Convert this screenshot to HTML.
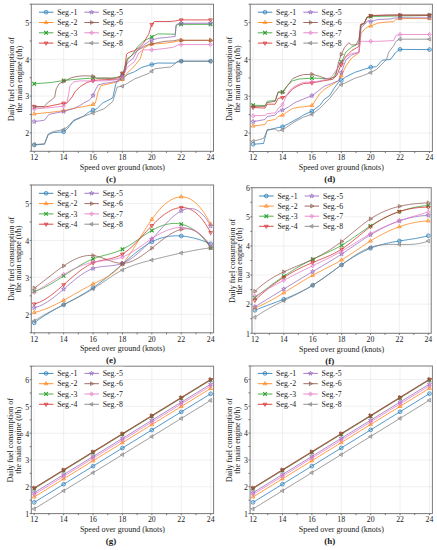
<!DOCTYPE html>
<html><head><meta charset="utf-8"><style>
html,body{margin:0;padding:0;background:#fff;}
svg{display:block;}
text{font-family:"Liberation Serif", serif;font-size:7.8px;fill:#1a1a1a;}
.al{font-size:8px;}
.pl{font-weight:bold;font-size:9px;}
.g{stroke:#e6e6e6;stroke-width:0.6;}
.sp{fill:none;stroke:#7a7a7a;stroke-width:1;}
.tk{stroke:#555;stroke-width:0.8;}
</style></head><body>
<svg width="437" height="550" viewBox="0 0 437 550">
<line x1="34.24" y1="4.2" x2="34.24" y2="151.3" class="g"/>
<line x1="63.63" y1="4.2" x2="63.63" y2="151.3" class="g"/>
<line x1="93.01" y1="4.2" x2="93.01" y2="151.3" class="g"/>
<line x1="122.4" y1="4.2" x2="122.4" y2="151.3" class="g"/>
<line x1="151.79" y1="4.2" x2="151.79" y2="151.3" class="g"/>
<line x1="181.17" y1="4.2" x2="181.17" y2="151.3" class="g"/>
<line x1="210.56" y1="4.2" x2="210.56" y2="151.3" class="g"/>
<line x1="31.3" y1="132.91" x2="213.5" y2="132.91" class="g"/>
<line x1="31.3" y1="96.14" x2="213.5" y2="96.14" class="g"/>
<line x1="31.3" y1="59.36" x2="213.5" y2="59.36" class="g"/>
<line x1="31.3" y1="22.59" x2="213.5" y2="22.59" class="g"/>
<polyline points="34.4,144.9 44.5,144.2 48.2,134.7 53.3,132.5 63.7,131.8 67.8,128.2 73.6,120.9 80,118 83.7,116.1 88.1,112.5 92.5,110.3 96.8,108.8 102.6,103 112.8,97.9 115.7,84.1 118.6,79.7 122.2,79 127.3,74.6 134.5,71.7 141.8,67.4 149.1,65.2 152,64.5 157.8,63 165,63.1 175.2,63.1 178.1,61.2 181,61.2 210.8,61.2" fill="none" stroke="#1f77b4" stroke-width="1" stroke-opacity="0.75" stroke-linejoin="round"/>
<polyline points="34.4,113.9 51.8,112.2 63.7,110.7 75,108.1 83.7,106.6 92.5,104.7 95.4,103 98.3,91.4 101.2,85.5 111.4,83.4 118.6,81.2 122.2,79.7 127.3,73.2 134.5,65.9 140.4,58.6 143.3,48.5 149.1,44.8 152,44.1 165,43.2 173.7,42 181,40.3 210.8,40.3" fill="none" stroke="#ff7f0e" stroke-width="1" stroke-opacity="0.75" stroke-linejoin="round"/>
<polyline points="34.4,83.8 51.8,82.4 63.7,80.5 73.6,79.5 80,79 92.5,78 111.4,78.3 121.5,76.5 123,73 127.3,58.6 131.6,55.7 137.5,47 143.3,41.2 149.1,38.3 152,36.8 157.8,33.9 170,34.1 175.2,34.3 176.2,25.5 178,24.5 181,24.4 210.8,24.4" fill="none" stroke="#2ca02c" stroke-width="1" stroke-opacity="0.75" stroke-linejoin="round"/>
<polyline points="34.4,106.4 44.5,107.1 63.7,103.2 66.4,103.5 68.5,101.3 72.2,96.9 75.1,91.5 80.4,86.5 86.6,82.6 92.5,80.9 98.3,80 118.6,79 122.2,73.2 124.4,71.7 126.5,54.3 128.7,52.5 134.5,50.6 138.9,47.7 143.3,43.4 149.1,33.2 151.3,25.2 154.2,21.5 170,21.5 175.2,20.9 181,19.9 210.8,19.9" fill="none" stroke="#d62728" stroke-width="1" stroke-opacity="0.75" stroke-linejoin="round"/>
<polyline points="34.4,121.6 44.5,120.2 48.9,114.4 56.2,112.9 63.7,111.5 73.6,108.5 80,105.5 83.7,103 89.5,100.1 92.7,96.2 95.4,89.9 98.3,84.8 104,83.4 118.6,81.2 122.2,76.1 127.3,63 133.1,58.6 137.5,49.9 143.3,45.5 149.1,41.2 152,40 157.8,38.3 165,37.6 175.2,36.5 176,25.4 177.1,24 181,23.4 210.8,23.3" fill="none" stroke="#9467bd" stroke-width="1" stroke-opacity="0.75" stroke-linejoin="round"/>
<polyline points="34.4,107.1 44.5,106.4 47.5,102.7 51.8,99.8 54.7,96.9 56.2,88.9 59.1,83.8 63.7,81.3 70.7,78 75,76.8 80,76.1 83.7,75.8 92.5,76.1 96.8,78.3 104,78 115.7,78.3 121.5,75.4 125,72 127.3,60.1 131,56 137.5,50.5 144.7,46.3 149.1,44.1 152,43.8 157.8,42.6 165,41.3 173.7,40.8 178.1,39.8 181,40.3 210.8,40.3" fill="none" stroke="#8c564b" stroke-width="1" stroke-opacity="0.75" stroke-linejoin="round"/>
<polyline points="34.4,109 51.8,107.5 63.7,106.1 67.1,102 68.5,94.7 70,86 73.6,81.9 80,80.9 92.5,80.9 104,80.9 118.6,79.7 122.2,77.5 127.3,67.4 134.5,61.5 138.9,52.8 143.3,49.9 152,49.9 165,48.5 173.7,47.1 178.1,44.9 181,44.6 210.8,44.6" fill="none" stroke="#e377c2" stroke-width="1" stroke-opacity="0.75" stroke-linejoin="round"/>
<polyline points="34.4,144.5 44.5,143.8 48.2,134 53.3,131.5 63.7,129.6 67.8,126.5 73.6,120.2 80,117.5 92.5,113.2 104,108.8 112.8,101.5 117.2,87 122.2,86.3 127.3,83.4 134.5,79 141.8,76.1 149.1,73.2 152,71 154.9,68.8 165,67.5 170.8,67 176.6,62.4 181,61.2 210.8,61.2" fill="none" stroke="#7f7f7f" stroke-width="1" stroke-opacity="0.75" stroke-linejoin="round"/>
<circle cx="34.24" cy="144.9" r="1.9" fill="#1f77b4" fill-opacity="0.22" stroke="#1f77b4" stroke-width="0.65"/>
<circle cx="63.63" cy="131.8" r="1.9" fill="#1f77b4" fill-opacity="0.22" stroke="#1f77b4" stroke-width="0.65"/>
<circle cx="93.01" cy="110.12" r="1.9" fill="#1f77b4" fill-opacity="0.22" stroke="#1f77b4" stroke-width="0.65"/>
<circle cx="122.4" cy="78.83" r="1.9" fill="#1f77b4" fill-opacity="0.22" stroke="#1f77b4" stroke-width="0.65"/>
<circle cx="151.79" cy="64.55" r="1.9" fill="#1f77b4" fill-opacity="0.22" stroke="#1f77b4" stroke-width="0.65"/>
<circle cx="181.17" cy="61.2" r="1.9" fill="#1f77b4" fill-opacity="0.22" stroke="#1f77b4" stroke-width="0.65"/>
<circle cx="210.56" cy="61.2" r="1.9" fill="#1f77b4" fill-opacity="0.22" stroke="#1f77b4" stroke-width="0.65"/>
<polygon points="34.24,111.72 36.13,114.99 32.35,114.99" fill="#ff7f0e" fill-opacity="0.22" stroke="#ff7f0e" stroke-width="0.65"/>
<polygon points="63.63,108.52 65.52,111.8 61.73,111.8" fill="#ff7f0e" fill-opacity="0.22" stroke="#ff7f0e" stroke-width="0.65"/>
<polygon points="93.01,102.21 94.91,105.49 91.12,105.49" fill="#ff7f0e" fill-opacity="0.22" stroke="#ff7f0e" stroke-width="0.65"/>
<polygon points="122.4,77.26 124.29,80.54 120.51,80.54" fill="#ff7f0e" fill-opacity="0.22" stroke="#ff7f0e" stroke-width="0.65"/>
<polygon points="151.79,41.97 153.68,45.24 149.89,45.24" fill="#ff7f0e" fill-opacity="0.22" stroke="#ff7f0e" stroke-width="0.65"/>
<polygon points="181.17,38.11 183.07,41.39 179.28,41.39" fill="#ff7f0e" fill-opacity="0.22" stroke="#ff7f0e" stroke-width="0.65"/>
<polygon points="210.56,38.11 212.45,41.39 208.67,41.39" fill="#ff7f0e" fill-opacity="0.22" stroke="#ff7f0e" stroke-width="0.65"/>
<path d="M32.43,81.99L36.04,85.61M32.43,85.61L36.04,81.99" stroke="#2ca02c" stroke-width="1.1" fill="none"/>
<path d="M61.82,78.71L65.43,82.32M61.82,82.32L65.43,78.71" stroke="#2ca02c" stroke-width="1.1" fill="none"/>
<path d="M91.21,76.2L94.82,79.81M91.21,79.81L94.82,76.2" stroke="#2ca02c" stroke-width="1.1" fill="none"/>
<path d="M120.59,72.6L124.2,76.21M120.59,76.21L124.2,72.6" stroke="#2ca02c" stroke-width="1.1" fill="none"/>
<path d="M149.98,35.11L153.59,38.72M149.98,38.72L153.59,35.11" stroke="#2ca02c" stroke-width="1.1" fill="none"/>
<path d="M179.37,22.59L182.98,26.2M179.37,26.2L182.98,22.59" stroke="#2ca02c" stroke-width="1.1" fill="none"/>
<path d="M208.76,22.59L212.37,26.2M208.76,26.2L212.37,22.59" stroke="#2ca02c" stroke-width="1.1" fill="none"/>
<polygon points="34.24,108.59 32.35,105.31 36.13,105.31" fill="#d62728" fill-opacity="0.22" stroke="#d62728" stroke-width="0.65"/>
<polygon points="63.63,105.4 61.73,102.12 65.52,102.12" fill="#d62728" fill-opacity="0.22" stroke="#d62728" stroke-width="0.65"/>
<polygon points="93.01,83.01 91.12,79.73 94.91,79.73" fill="#d62728" fill-opacity="0.22" stroke="#d62728" stroke-width="0.65"/>
<polygon points="122.4,75.25 120.51,71.97 124.29,71.97" fill="#d62728" fill-opacity="0.22" stroke="#d62728" stroke-width="0.65"/>
<polygon points="151.79,26.76 149.89,23.49 153.68,23.49" fill="#d62728" fill-opacity="0.22" stroke="#d62728" stroke-width="0.65"/>
<polygon points="181.17,22.08 179.28,18.81 183.07,18.81" fill="#d62728" fill-opacity="0.22" stroke="#d62728" stroke-width="0.65"/>
<polygon points="210.56,22.08 208.67,18.81 212.45,18.81" fill="#d62728" fill-opacity="0.22" stroke="#d62728" stroke-width="0.65"/>
<polygon points="34.24,119.32 34.85,120.75 36.41,120.9 35.23,121.92 35.58,123.44 34.24,122.64 32.9,123.44 33.24,121.92 32.07,120.9 33.62,120.75" fill="#9467bd" fill-opacity="0.22" stroke="#9467bd" stroke-width="0.65"/>
<polygon points="63.63,109.23 64.24,110.67 65.79,110.81 64.62,111.84 64.97,113.36 63.63,112.56 62.29,113.36 62.63,111.84 61.46,110.81 63.01,110.67" fill="#9467bd" fill-opacity="0.22" stroke="#9467bd" stroke-width="0.65"/>
<polygon points="93.01,93.19 93.63,94.62 95.18,94.77 94.01,95.79 94.35,97.31 93.01,96.51 91.67,97.31 92.02,95.79 90.84,94.77 92.4,94.62" fill="#9467bd" fill-opacity="0.22" stroke="#9467bd" stroke-width="0.65"/>
<polygon points="122.4,73.31 123.01,74.74 124.57,74.88 123.39,75.91 123.74,77.43 122.4,76.63 121.06,77.43 121.41,75.91 120.23,74.88 121.79,74.74" fill="#9467bd" fill-opacity="0.22" stroke="#9467bd" stroke-width="0.65"/>
<polygon points="151.79,37.81 152.4,39.24 153.96,39.38 152.78,40.41 153.13,41.93 151.79,41.13 150.45,41.93 150.79,40.41 149.62,39.38 151.17,39.24" fill="#9467bd" fill-opacity="0.22" stroke="#9467bd" stroke-width="0.65"/>
<polygon points="181.17,21.12 181.79,22.55 183.34,22.69 182.17,23.72 182.51,25.24 181.17,24.44 179.83,25.24 180.18,23.72 179.01,22.69 180.56,22.55" fill="#9467bd" fill-opacity="0.22" stroke="#9467bd" stroke-width="0.65"/>
<polygon points="210.56,21.02 211.18,22.46 212.73,22.6 211.56,23.62 211.9,25.15 210.56,24.35 209.22,25.15 209.57,23.62 208.39,22.6 209.95,22.46" fill="#9467bd" fill-opacity="0.22" stroke="#9467bd" stroke-width="0.65"/>
<polygon points="36.42,107.1 33.15,108.99 33.15,105.21" fill="#8c564b" fill-opacity="0.22" stroke="#8c564b" stroke-width="0.65"/>
<polygon points="65.81,81.34 62.53,83.23 62.53,79.45" fill="#8c564b" fill-opacity="0.22" stroke="#8c564b" stroke-width="0.65"/>
<polygon points="95.2,76.36 91.92,78.25 91.92,74.47" fill="#8c564b" fill-opacity="0.22" stroke="#8c564b" stroke-width="0.65"/>
<polygon points="124.58,74.53 121.31,76.42 121.31,72.63" fill="#8c564b" fill-opacity="0.22" stroke="#8c564b" stroke-width="0.65"/>
<polygon points="153.97,43.82 150.69,45.71 150.69,41.93" fill="#8c564b" fill-opacity="0.22" stroke="#8c564b" stroke-width="0.65"/>
<polygon points="183.36,40.3 180.08,42.19 180.08,38.41" fill="#8c564b" fill-opacity="0.22" stroke="#8c564b" stroke-width="0.65"/>
<polygon points="212.75,40.3 209.47,42.19 209.47,38.41" fill="#8c564b" fill-opacity="0.22" stroke="#8c564b" stroke-width="0.65"/>
<polygon points="34.24,106.81 35.99,109 34.24,111.19 32.49,109" fill="#e377c2" fill-opacity="0.22" stroke="#e377c2" stroke-width="0.65"/>
<polygon points="63.63,103.92 65.37,106.11 63.63,108.29 61.88,106.11" fill="#e377c2" fill-opacity="0.22" stroke="#e377c2" stroke-width="0.65"/>
<polygon points="93.01,78.72 94.76,80.9 93.01,83.09 91.26,80.9" fill="#e377c2" fill-opacity="0.22" stroke="#e377c2" stroke-width="0.65"/>
<polygon points="122.4,74.92 124.15,77.1 122.4,79.29 120.65,77.1" fill="#e377c2" fill-opacity="0.22" stroke="#e377c2" stroke-width="0.65"/>
<polygon points="151.79,47.71 153.54,49.9 151.79,52.09 150.04,49.9" fill="#e377c2" fill-opacity="0.22" stroke="#e377c2" stroke-width="0.65"/>
<polygon points="181.17,42.41 182.92,44.6 181.17,46.79 179.43,44.6" fill="#e377c2" fill-opacity="0.22" stroke="#e377c2" stroke-width="0.65"/>
<polygon points="210.56,42.41 212.31,44.6 210.56,46.79 208.81,44.6" fill="#e377c2" fill-opacity="0.22" stroke="#e377c2" stroke-width="0.65"/>
<polygon points="32.05,144.5 35.33,142.61 35.33,146.39" fill="#7f7f7f" fill-opacity="0.22" stroke="#7f7f7f" stroke-width="0.65"/>
<polygon points="61.44,129.61 64.72,127.72 64.72,131.51" fill="#7f7f7f" fill-opacity="0.22" stroke="#7f7f7f" stroke-width="0.65"/>
<polygon points="90.83,113 94.11,111.11 94.11,114.9" fill="#7f7f7f" fill-opacity="0.22" stroke="#7f7f7f" stroke-width="0.65"/>
<polygon points="120.21,86.19 123.49,84.29 123.49,88.08" fill="#7f7f7f" fill-opacity="0.22" stroke="#7f7f7f" stroke-width="0.65"/>
<polygon points="149.6,71.16 152.88,69.27 152.88,73.05" fill="#7f7f7f" fill-opacity="0.22" stroke="#7f7f7f" stroke-width="0.65"/>
<polygon points="178.99,61.2 182.27,59.31 182.27,63.09" fill="#7f7f7f" fill-opacity="0.22" stroke="#7f7f7f" stroke-width="0.65"/>
<polygon points="208.38,61.2 211.65,59.31 211.65,63.09" fill="#7f7f7f" fill-opacity="0.22" stroke="#7f7f7f" stroke-width="0.65"/>
<rect x="31.3" y="4.2" width="182.2" height="147.1" class="sp"/>
<line x1="34.24" y1="151.3" x2="34.24" y2="152.9" class="tk"/>
<line x1="48.93" y1="151.3" x2="48.93" y2="152.9" class="tk"/>
<line x1="63.63" y1="151.3" x2="63.63" y2="152.9" class="tk"/>
<line x1="78.32" y1="151.3" x2="78.32" y2="152.9" class="tk"/>
<line x1="93.01" y1="151.3" x2="93.01" y2="152.9" class="tk"/>
<line x1="107.71" y1="151.3" x2="107.71" y2="152.9" class="tk"/>
<line x1="122.4" y1="151.3" x2="122.4" y2="152.9" class="tk"/>
<line x1="137.09" y1="151.3" x2="137.09" y2="152.9" class="tk"/>
<line x1="151.79" y1="151.3" x2="151.79" y2="152.9" class="tk"/>
<line x1="166.48" y1="151.3" x2="166.48" y2="152.9" class="tk"/>
<line x1="181.17" y1="151.3" x2="181.17" y2="152.9" class="tk"/>
<line x1="195.87" y1="151.3" x2="195.87" y2="152.9" class="tk"/>
<line x1="210.56" y1="151.3" x2="210.56" y2="152.9" class="tk"/>
<text x="34.24" y="160.1" text-anchor="middle">12</text>
<text x="63.63" y="160.1" text-anchor="middle">14</text>
<text x="93.01" y="160.1" text-anchor="middle">16</text>
<text x="122.4" y="160.1" text-anchor="middle">18</text>
<text x="151.79" y="160.1" text-anchor="middle">20</text>
<text x="181.17" y="160.1" text-anchor="middle">22</text>
<text x="210.56" y="160.1" text-anchor="middle">24</text>
<line x1="29.7" y1="151.3" x2="31.3" y2="151.3" class="tk"/>
<line x1="29.7" y1="132.91" x2="31.3" y2="132.91" class="tk"/>
<line x1="29.7" y1="114.53" x2="31.3" y2="114.53" class="tk"/>
<line x1="29.7" y1="96.14" x2="31.3" y2="96.14" class="tk"/>
<line x1="29.7" y1="77.75" x2="31.3" y2="77.75" class="tk"/>
<line x1="29.7" y1="59.36" x2="31.3" y2="59.36" class="tk"/>
<line x1="29.7" y1="40.97" x2="31.3" y2="40.97" class="tk"/>
<line x1="29.7" y1="22.59" x2="31.3" y2="22.59" class="tk"/>
<line x1="29.7" y1="4.2" x2="31.3" y2="4.2" class="tk"/>
<text x="29.1" y="136.21" text-anchor="end">2</text>
<text x="29.1" y="99.44" text-anchor="end">3</text>
<text x="29.1" y="62.66" text-anchor="end">4</text>
<text x="29.1" y="25.89" text-anchor="end">5</text>
<text x="122.4" y="169.9" text-anchor="middle" class="al">Speed over ground (knots)</text>
<text transform="translate(13.7,79.15) rotate(-90)" text-anchor="middle" class="al">Daily fuel consumption of</text>
<text transform="translate(21.6,79.15) rotate(-90)" text-anchor="middle" class="al">the main engine (t/h)</text>
<text x="111" y="181.6" text-anchor="middle" class="pl">(c)</text>
<rect x="33.5" y="5.5" width="91" height="42" fill="#fff" fill-opacity="0.85"/>
<line x1="38.9" y1="12.2" x2="53.4" y2="12.2" stroke="#1f77b4" stroke-width="1" stroke-opacity="0.85"/>
<circle cx="46.1" cy="12.2" r="1.9" fill="#1f77b4" fill-opacity="0.22" stroke="#1f77b4" stroke-width="0.65"/>
<text x="57.2" y="14.9">Seg.-1</text>
<line x1="38.9" y1="22.5" x2="53.4" y2="22.5" stroke="#ff7f0e" stroke-width="1" stroke-opacity="0.85"/>
<polygon points="46.1,20.32 47.99,23.59 44.21,23.59" fill="#ff7f0e" fill-opacity="0.22" stroke="#ff7f0e" stroke-width="0.65"/>
<text x="57.2" y="25.2">Seg.-2</text>
<line x1="38.9" y1="32.8" x2="53.4" y2="32.8" stroke="#2ca02c" stroke-width="1" stroke-opacity="0.85"/>
<path d="M44.3,30.99L47.91,34.6M44.3,34.6L47.91,30.99" stroke="#2ca02c" stroke-width="1.1" fill="none"/>
<text x="57.2" y="35.5">Seg.-3</text>
<line x1="38.9" y1="43.1" x2="53.4" y2="43.1" stroke="#d62728" stroke-width="1" stroke-opacity="0.85"/>
<polygon points="46.1,45.29 44.21,42.01 47.99,42.01" fill="#d62728" fill-opacity="0.22" stroke="#d62728" stroke-width="0.65"/>
<text x="57.2" y="45.8">Seg.-4</text>
<line x1="84.4" y1="12.2" x2="98.9" y2="12.2" stroke="#9467bd" stroke-width="1" stroke-opacity="0.85"/>
<polygon points="91.6,9.92 92.21,11.35 93.77,11.5 92.59,12.52 92.94,14.04 91.6,13.24 90.26,14.04 90.61,12.52 89.43,11.5 90.99,11.35" fill="#9467bd" fill-opacity="0.22" stroke="#9467bd" stroke-width="0.65"/>
<text x="102.7" y="14.9">Seg.-5</text>
<line x1="84.4" y1="22.5" x2="98.9" y2="22.5" stroke="#8c564b" stroke-width="1" stroke-opacity="0.85"/>
<polygon points="93.79,22.5 90.51,24.39 90.51,20.61" fill="#8c564b" fill-opacity="0.22" stroke="#8c564b" stroke-width="0.65"/>
<text x="102.7" y="25.2">Seg.-6</text>
<line x1="84.4" y1="32.8" x2="98.9" y2="32.8" stroke="#e377c2" stroke-width="1" stroke-opacity="0.85"/>
<polygon points="91.6,30.61 93.35,32.8 91.6,34.98 89.85,32.8" fill="#e377c2" fill-opacity="0.22" stroke="#e377c2" stroke-width="0.65"/>
<text x="102.7" y="35.5">Seg.-7</text>
<line x1="84.4" y1="43.1" x2="98.9" y2="43.1" stroke="#7f7f7f" stroke-width="1" stroke-opacity="0.85"/>
<polygon points="89.42,43.1 92.69,41.21 92.69,44.99" fill="#7f7f7f" fill-opacity="0.22" stroke="#7f7f7f" stroke-width="0.65"/>
<text x="102.7" y="45.8">Seg.-8</text>
<line x1="253.14" y1="4.2" x2="253.14" y2="151.5" class="g"/>
<line x1="282.53" y1="4.2" x2="282.53" y2="151.5" class="g"/>
<line x1="311.91" y1="4.2" x2="311.91" y2="151.5" class="g"/>
<line x1="341.3" y1="4.2" x2="341.3" y2="151.5" class="g"/>
<line x1="370.69" y1="4.2" x2="370.69" y2="151.5" class="g"/>
<line x1="400.07" y1="4.2" x2="400.07" y2="151.5" class="g"/>
<line x1="429.46" y1="4.2" x2="429.46" y2="151.5" class="g"/>
<line x1="250.2" y1="133.09" x2="432.4" y2="133.09" class="g"/>
<line x1="250.2" y1="96.26" x2="432.4" y2="96.26" class="g"/>
<line x1="250.2" y1="59.44" x2="432.4" y2="59.44" class="g"/>
<line x1="250.2" y1="22.61" x2="432.4" y2="22.61" class="g"/>
<polyline points="253.4,144.2 263.5,143.5 265.7,135.5 267.2,130.4 275.2,128.2 282.7,126.7 288.3,123.8 295,120 299,118 303.7,114.9 312.2,111 319.7,105.5 324.1,99.6 329.9,95.3 334.3,88 338.6,82.2 340,81.3 345.8,76.9 354.5,72.5 363.3,69.6 370.8,67.2 376.4,66.7 382.2,60.2 390,59.5 390.8,59.1 395.2,53 399.5,49.4 429.8,49.6" fill="none" stroke="#1f77b4" stroke-width="1" stroke-opacity="0.75" stroke-linejoin="round"/>
<polyline points="253.4,126 265,124.5 267.2,120.9 275.2,119.5 278.1,116.5 282.7,115.1 286.8,112.2 292.6,108.5 299,107.1 303.7,106.9 312.2,105.5 316.8,98.2 319.7,93.8 324.1,89.5 331.4,85.1 338.6,80.7 341.5,75.6 343,72 346,66 351.6,58 358.9,52.9 361.1,33.3 365.5,28.2 369.1,26.3 370.8,26 377.8,23.1 385,22.2 393.7,21.7 395.9,19.5 399.5,18.6 429.8,18.6" fill="none" stroke="#ff7f0e" stroke-width="1" stroke-opacity="0.75" stroke-linejoin="round"/>
<polyline points="253.4,105.2 265,105.6 267.2,101.3 275.2,100.5 278.1,92.5 282.7,91.8 286.8,86 292.6,80.9 299,79 312.2,78.1 324.1,78.5 329.9,79 334.3,76.4 338.6,66.2 343,58.9 345.8,52.2 351.6,47.1 358.9,43.5 361.1,25.3 364.7,23.1 366.9,17 370.8,16.5 390,16.1 429.8,15.5" fill="none" stroke="#2ca02c" stroke-width="1" stroke-opacity="0.75" stroke-linejoin="round"/>
<polyline points="253.4,107.5 265,108.1 267.2,104.2 275.2,104.2 278.1,98.4 282.7,97.6 286.8,95.5 292.6,88.9 299,85.3 303.7,83.6 312.2,82.9 324.1,80.7 332.8,79.3 337.2,74.9 340.1,66.9 345.8,56.5 351.6,50.7 358.9,46.4 360.4,24.5 364,23.1 366.9,18 370.8,15.5 390,15.1 429.8,15.2" fill="none" stroke="#d62728" stroke-width="1" stroke-opacity="0.75" stroke-linejoin="round"/>
<polyline points="253.4,121.6 265,119.5 267.2,116.5 275.2,115.1 278.1,111.5 282.7,110 288.3,107.1 295,102.5 303.7,98.9 312.2,95.6 318.3,90.9 324.1,86.3 331.4,83.6 338.6,80.7 341.5,72 345.8,60 351.6,55.1 358.9,52.2 361.1,27.5 364.7,24.5 367.6,20.9 370.8,21.6 377.8,19.5 390,19 393.7,18.1 399.5,17.8 429.8,17.8" fill="none" stroke="#9467bd" stroke-width="1" stroke-opacity="0.75" stroke-linejoin="round"/>
<polyline points="253.4,106.4 265,106.4 267.2,102.7 275.2,101.3 278.1,91.8 282.7,92.5 286.8,86.7 292.6,78.7 299,75.8 303.7,74.6 312.2,74.3 319.7,76.4 328.5,79.3 335.7,76.4 338.6,61.8 341.5,53.8 344.4,47.8 348.7,42.7 351.6,44.9 356,44.9 358.9,39.1 361.1,24.5 364,23.8 366.9,17.3 370.8,16 374.9,15.5 390,15 429.8,15" fill="none" stroke="#8c564b" stroke-width="1" stroke-opacity="0.75" stroke-linejoin="round"/>
<polyline points="253.4,115.8 265,115.4 267.2,113.6 275.2,112.9 278.1,108.5 282.7,104.6 286.1,96.2 289.7,90.4 295,86 303.7,82.2 312.2,82.2 321.2,80.7 329.9,77.8 332.8,74.9 337.2,69 340,64 345.8,57 351.6,53.6 358.9,52.2 360.4,41.3 370.8,41.3 377.8,41.3 390,40.8 393.7,40.6 395.9,35.5 399.5,34.5 429.8,34.5" fill="none" stroke="#e377c2" stroke-width="1" stroke-opacity="0.75" stroke-linejoin="round"/>
<polyline points="253.4,141.3 263.5,138.4 265.7,134 267.2,129.6 275.2,128.9 278.1,131.1 282.7,129.9 288.3,126 295,121.5 303.7,117.1 312.2,114.2 319.7,108.4 324.1,104 329.9,98.2 334.3,92.4 340.1,85.1 345.8,82.7 354.5,78.4 363.3,75.5 370.8,72.5 376.4,69.6 380.7,65.3 386.5,59.5 388.7,52.2 393.7,45.7 395.9,41.4 399.5,39.2 429.8,39.2" fill="none" stroke="#7f7f7f" stroke-width="1" stroke-opacity="0.75" stroke-linejoin="round"/>
<circle cx="253.14" cy="144.2" r="1.9" fill="#1f77b4" fill-opacity="0.22" stroke="#1f77b4" stroke-width="0.65"/>
<circle cx="282.53" cy="126.73" r="1.9" fill="#1f77b4" fill-opacity="0.22" stroke="#1f77b4" stroke-width="0.65"/>
<circle cx="311.91" cy="111.13" r="1.9" fill="#1f77b4" fill-opacity="0.22" stroke="#1f77b4" stroke-width="0.65"/>
<circle cx="341.3" cy="80.31" r="1.9" fill="#1f77b4" fill-opacity="0.22" stroke="#1f77b4" stroke-width="0.65"/>
<circle cx="370.69" cy="67.24" r="1.9" fill="#1f77b4" fill-opacity="0.22" stroke="#1f77b4" stroke-width="0.65"/>
<circle cx="400.07" cy="49.4" r="1.9" fill="#1f77b4" fill-opacity="0.22" stroke="#1f77b4" stroke-width="0.65"/>
<circle cx="429.46" cy="49.6" r="1.9" fill="#1f77b4" fill-opacity="0.22" stroke="#1f77b4" stroke-width="0.65"/>
<polygon points="253.14,123.81 255.03,127.09 251.25,127.09" fill="#ff7f0e" fill-opacity="0.22" stroke="#ff7f0e" stroke-width="0.65"/>
<polygon points="282.53,112.97 284.42,116.25 280.63,116.25" fill="#ff7f0e" fill-opacity="0.22" stroke="#ff7f0e" stroke-width="0.65"/>
<polygon points="311.91,103.36 313.81,106.64 310.02,106.64" fill="#ff7f0e" fill-opacity="0.22" stroke="#ff7f0e" stroke-width="0.65"/>
<polygon points="341.3,73.77 343.19,77.04 339.41,77.04" fill="#ff7f0e" fill-opacity="0.22" stroke="#ff7f0e" stroke-width="0.65"/>
<polygon points="370.69,23.83 372.58,27.11 368.79,27.11" fill="#ff7f0e" fill-opacity="0.22" stroke="#ff7f0e" stroke-width="0.65"/>
<polygon points="400.07,16.42 401.97,19.69 398.18,19.69" fill="#ff7f0e" fill-opacity="0.22" stroke="#ff7f0e" stroke-width="0.65"/>
<polygon points="429.46,16.42 431.35,19.69 427.57,19.69" fill="#ff7f0e" fill-opacity="0.22" stroke="#ff7f0e" stroke-width="0.65"/>
<path d="M251.33,103.39L254.94,107.01M251.33,107.01L254.94,103.39" stroke="#2ca02c" stroke-width="1.1" fill="none"/>
<path d="M280.72,90.02L284.33,93.63M280.72,93.63L284.33,90.02" stroke="#2ca02c" stroke-width="1.1" fill="none"/>
<path d="M310.11,76.31L313.72,79.92M310.11,79.92L313.72,76.31" stroke="#2ca02c" stroke-width="1.1" fill="none"/>
<path d="M339.49,59.92L343.1,63.53M339.49,63.53L343.1,59.92" stroke="#2ca02c" stroke-width="1.1" fill="none"/>
<path d="M368.88,14.71L372.49,18.32M368.88,18.32L372.49,14.71" stroke="#2ca02c" stroke-width="1.1" fill="none"/>
<path d="M398.27,14.14L401.88,17.75M398.27,17.75L401.88,14.14" stroke="#2ca02c" stroke-width="1.1" fill="none"/>
<path d="M427.66,13.7L431.27,17.31M427.66,17.31L431.27,13.7" stroke="#2ca02c" stroke-width="1.1" fill="none"/>
<polygon points="253.14,109.69 251.25,106.41 255.03,106.41" fill="#d62728" fill-opacity="0.22" stroke="#d62728" stroke-width="0.65"/>
<polygon points="282.53,99.82 280.63,96.54 284.42,96.54" fill="#d62728" fill-opacity="0.22" stroke="#d62728" stroke-width="0.65"/>
<polygon points="311.91,85.11 310.02,81.83 313.81,81.83" fill="#d62728" fill-opacity="0.22" stroke="#d62728" stroke-width="0.65"/>
<polygon points="341.3,66.9 339.41,63.62 343.19,63.62" fill="#d62728" fill-opacity="0.22" stroke="#d62728" stroke-width="0.65"/>
<polygon points="370.69,17.76 368.79,14.48 372.58,14.48" fill="#d62728" fill-opacity="0.22" stroke="#d62728" stroke-width="0.65"/>
<polygon points="400.07,17.31 398.18,14.03 401.97,14.03" fill="#d62728" fill-opacity="0.22" stroke="#d62728" stroke-width="0.65"/>
<polygon points="429.46,17.38 427.57,14.11 431.35,14.11" fill="#d62728" fill-opacity="0.22" stroke="#d62728" stroke-width="0.65"/>
<polygon points="253.14,119.32 253.75,120.75 255.31,120.9 254.13,121.92 254.48,123.44 253.14,122.64 251.8,123.44 252.14,121.92 250.97,120.9 252.52,120.75" fill="#9467bd" fill-opacity="0.22" stroke="#9467bd" stroke-width="0.65"/>
<polygon points="282.53,107.78 283.14,109.21 284.69,109.35 283.52,110.38 283.87,111.9 282.53,111.1 281.19,111.9 281.53,110.38 280.36,109.35 281.91,109.21" fill="#9467bd" fill-opacity="0.22" stroke="#9467bd" stroke-width="0.65"/>
<polygon points="311.91,93.43 312.53,94.87 314.08,95.01 312.91,96.03 313.25,97.56 311.91,96.76 310.57,97.56 310.92,96.03 309.74,95.01 311.3,94.87" fill="#9467bd" fill-opacity="0.22" stroke="#9467bd" stroke-width="0.65"/>
<polygon points="341.3,70.32 341.91,71.75 343.47,71.9 342.29,72.92 342.64,74.44 341.3,73.65 339.96,74.44 340.31,72.92 339.13,71.9 340.69,71.75" fill="#9467bd" fill-opacity="0.22" stroke="#9467bd" stroke-width="0.65"/>
<polygon points="370.69,19.3 371.3,20.73 372.86,20.87 371.68,21.9 372.03,23.42 370.69,22.62 369.35,23.42 369.69,21.9 368.52,20.87 370.07,20.73" fill="#9467bd" fill-opacity="0.22" stroke="#9467bd" stroke-width="0.65"/>
<polygon points="400.07,15.52 400.69,16.95 402.24,17.1 401.07,18.12 401.41,19.64 400.07,18.84 398.73,19.64 399.08,18.12 397.91,17.1 399.46,16.95" fill="#9467bd" fill-opacity="0.22" stroke="#9467bd" stroke-width="0.65"/>
<polygon points="429.46,15.52 430.08,16.95 431.63,17.1 430.46,18.12 430.8,19.64 429.46,18.84 428.12,19.64 428.47,18.12 427.29,17.1 428.85,16.95" fill="#9467bd" fill-opacity="0.22" stroke="#9467bd" stroke-width="0.65"/>
<polygon points="255.32,106.4 252.05,108.29 252.05,104.51" fill="#8c564b" fill-opacity="0.22" stroke="#8c564b" stroke-width="0.65"/>
<polygon points="284.71,92.47 281.43,94.37 281.43,90.58" fill="#8c564b" fill-opacity="0.22" stroke="#8c564b" stroke-width="0.65"/>
<polygon points="314.1,74.31 310.82,76.2 310.82,72.42" fill="#8c564b" fill-opacity="0.22" stroke="#8c564b" stroke-width="0.65"/>
<polygon points="343.48,54.35 340.21,56.24 340.21,52.46" fill="#8c564b" fill-opacity="0.22" stroke="#8c564b" stroke-width="0.65"/>
<polygon points="372.87,16.04 369.59,17.93 369.59,14.15" fill="#8c564b" fill-opacity="0.22" stroke="#8c564b" stroke-width="0.65"/>
<polygon points="402.26,15 398.98,16.89 398.98,13.11" fill="#8c564b" fill-opacity="0.22" stroke="#8c564b" stroke-width="0.65"/>
<polygon points="431.65,15 428.37,16.89 428.37,13.11" fill="#8c564b" fill-opacity="0.22" stroke="#8c564b" stroke-width="0.65"/>
<polygon points="253.14,113.61 254.89,115.8 253.14,117.98 251.39,115.8" fill="#e377c2" fill-opacity="0.22" stroke="#e377c2" stroke-width="0.65"/>
<polygon points="282.53,102.56 284.27,104.75 282.53,106.93 280.78,104.75" fill="#e377c2" fill-opacity="0.22" stroke="#e377c2" stroke-width="0.65"/>
<polygon points="311.91,80.02 313.66,82.2 311.91,84.39 310.16,82.2" fill="#e377c2" fill-opacity="0.22" stroke="#e377c2" stroke-width="0.65"/>
<polygon points="341.3,60.25 343.05,62.43 341.3,64.62 339.55,62.43" fill="#e377c2" fill-opacity="0.22" stroke="#e377c2" stroke-width="0.65"/>
<polygon points="370.69,39.11 372.44,41.3 370.69,43.48 368.94,41.3" fill="#e377c2" fill-opacity="0.22" stroke="#e377c2" stroke-width="0.65"/>
<polygon points="400.07,32.31 401.82,34.5 400.07,36.69 398.33,34.5" fill="#e377c2" fill-opacity="0.22" stroke="#e377c2" stroke-width="0.65"/>
<polygon points="429.46,32.31 431.21,34.5 429.46,36.69 427.71,34.5" fill="#e377c2" fill-opacity="0.22" stroke="#e377c2" stroke-width="0.65"/>
<polygon points="250.95,141.3 254.23,139.41 254.23,143.19" fill="#7f7f7f" fill-opacity="0.22" stroke="#7f7f7f" stroke-width="0.65"/>
<polygon points="280.34,129.95 283.62,128.05 283.62,131.84" fill="#7f7f7f" fill-opacity="0.22" stroke="#7f7f7f" stroke-width="0.65"/>
<polygon points="309.73,114.3 313.01,112.41 313.01,116.19" fill="#7f7f7f" fill-opacity="0.22" stroke="#7f7f7f" stroke-width="0.65"/>
<polygon points="339.11,84.59 342.39,82.7 342.39,86.49" fill="#7f7f7f" fill-opacity="0.22" stroke="#7f7f7f" stroke-width="0.65"/>
<polygon points="368.5,72.55 371.78,70.65 371.78,74.44" fill="#7f7f7f" fill-opacity="0.22" stroke="#7f7f7f" stroke-width="0.65"/>
<polygon points="397.89,39.2 401.17,37.31 401.17,41.09" fill="#7f7f7f" fill-opacity="0.22" stroke="#7f7f7f" stroke-width="0.65"/>
<polygon points="427.28,39.2 430.55,37.31 430.55,41.09" fill="#7f7f7f" fill-opacity="0.22" stroke="#7f7f7f" stroke-width="0.65"/>
<rect x="250.2" y="4.2" width="182.2" height="147.3" class="sp"/>
<line x1="253.14" y1="151.5" x2="253.14" y2="153.1" class="tk"/>
<line x1="267.83" y1="151.5" x2="267.83" y2="153.1" class="tk"/>
<line x1="282.53" y1="151.5" x2="282.53" y2="153.1" class="tk"/>
<line x1="297.22" y1="151.5" x2="297.22" y2="153.1" class="tk"/>
<line x1="311.91" y1="151.5" x2="311.91" y2="153.1" class="tk"/>
<line x1="326.61" y1="151.5" x2="326.61" y2="153.1" class="tk"/>
<line x1="341.3" y1="151.5" x2="341.3" y2="153.1" class="tk"/>
<line x1="355.99" y1="151.5" x2="355.99" y2="153.1" class="tk"/>
<line x1="370.69" y1="151.5" x2="370.69" y2="153.1" class="tk"/>
<line x1="385.38" y1="151.5" x2="385.38" y2="153.1" class="tk"/>
<line x1="400.07" y1="151.5" x2="400.07" y2="153.1" class="tk"/>
<line x1="414.77" y1="151.5" x2="414.77" y2="153.1" class="tk"/>
<line x1="429.46" y1="151.5" x2="429.46" y2="153.1" class="tk"/>
<text x="253.14" y="160.3" text-anchor="middle">12</text>
<text x="282.53" y="160.3" text-anchor="middle">14</text>
<text x="311.91" y="160.3" text-anchor="middle">16</text>
<text x="341.3" y="160.3" text-anchor="middle">18</text>
<text x="370.69" y="160.3" text-anchor="middle">20</text>
<text x="400.07" y="160.3" text-anchor="middle">22</text>
<text x="429.46" y="160.3" text-anchor="middle">24</text>
<line x1="248.6" y1="151.5" x2="250.2" y2="151.5" class="tk"/>
<line x1="248.6" y1="133.09" x2="250.2" y2="133.09" class="tk"/>
<line x1="248.6" y1="114.67" x2="250.2" y2="114.67" class="tk"/>
<line x1="248.6" y1="96.26" x2="250.2" y2="96.26" class="tk"/>
<line x1="248.6" y1="77.85" x2="250.2" y2="77.85" class="tk"/>
<line x1="248.6" y1="59.44" x2="250.2" y2="59.44" class="tk"/>
<line x1="248.6" y1="41.02" x2="250.2" y2="41.02" class="tk"/>
<line x1="248.6" y1="22.61" x2="250.2" y2="22.61" class="tk"/>
<line x1="248.6" y1="4.2" x2="250.2" y2="4.2" class="tk"/>
<text x="248" y="136.39" text-anchor="end">2</text>
<text x="248" y="99.56" text-anchor="end">3</text>
<text x="248" y="62.74" text-anchor="end">4</text>
<text x="248" y="25.91" text-anchor="end">5</text>
<text x="341.3" y="170.1" text-anchor="middle" class="al">Speed over ground (knots)</text>
<text transform="translate(232.1,78.85) rotate(-90)" text-anchor="middle" class="al">Daily fuel consumption of</text>
<text transform="translate(239.6,78.85) rotate(-90)" text-anchor="middle" class="al">the main engine (t/h)</text>
<text x="329.8" y="181.8" text-anchor="middle" class="pl">(d)</text>
<rect x="252.4" y="5.5" width="91" height="42" fill="#fff" fill-opacity="0.85"/>
<line x1="257.8" y1="12.2" x2="272.3" y2="12.2" stroke="#1f77b4" stroke-width="1" stroke-opacity="0.85"/>
<circle cx="265" cy="12.2" r="1.9" fill="#1f77b4" fill-opacity="0.22" stroke="#1f77b4" stroke-width="0.65"/>
<text x="276.1" y="14.9">Seg.-1</text>
<line x1="257.8" y1="22.5" x2="272.3" y2="22.5" stroke="#ff7f0e" stroke-width="1" stroke-opacity="0.85"/>
<polygon points="265,20.32 266.89,23.59 263.11,23.59" fill="#ff7f0e" fill-opacity="0.22" stroke="#ff7f0e" stroke-width="0.65"/>
<text x="276.1" y="25.2">Seg.-2</text>
<line x1="257.8" y1="32.8" x2="272.3" y2="32.8" stroke="#2ca02c" stroke-width="1" stroke-opacity="0.85"/>
<path d="M263.19,30.99L266.81,34.6M263.19,34.6L266.81,30.99" stroke="#2ca02c" stroke-width="1.1" fill="none"/>
<text x="276.1" y="35.5">Seg.-3</text>
<line x1="257.8" y1="43.1" x2="272.3" y2="43.1" stroke="#d62728" stroke-width="1" stroke-opacity="0.85"/>
<polygon points="265,45.29 263.11,42.01 266.89,42.01" fill="#d62728" fill-opacity="0.22" stroke="#d62728" stroke-width="0.65"/>
<text x="276.1" y="45.8">Seg.-4</text>
<line x1="303.3" y1="12.2" x2="317.8" y2="12.2" stroke="#9467bd" stroke-width="1" stroke-opacity="0.85"/>
<polygon points="310.5,9.92 311.11,11.35 312.67,11.5 311.49,12.52 311.84,14.04 310.5,13.24 309.16,14.04 309.51,12.52 308.33,11.5 309.89,11.35" fill="#9467bd" fill-opacity="0.22" stroke="#9467bd" stroke-width="0.65"/>
<text x="321.6" y="14.9">Seg.-5</text>
<line x1="303.3" y1="22.5" x2="317.8" y2="22.5" stroke="#8c564b" stroke-width="1" stroke-opacity="0.85"/>
<polygon points="312.69,22.5 309.41,24.39 309.41,20.61" fill="#8c564b" fill-opacity="0.22" stroke="#8c564b" stroke-width="0.65"/>
<text x="321.6" y="25.2">Seg.-6</text>
<line x1="303.3" y1="32.8" x2="317.8" y2="32.8" stroke="#e377c2" stroke-width="1" stroke-opacity="0.85"/>
<polygon points="310.5,30.61 312.25,32.8 310.5,34.98 308.75,32.8" fill="#e377c2" fill-opacity="0.22" stroke="#e377c2" stroke-width="0.65"/>
<text x="321.6" y="35.5">Seg.-7</text>
<line x1="303.3" y1="43.1" x2="317.8" y2="43.1" stroke="#7f7f7f" stroke-width="1" stroke-opacity="0.85"/>
<polygon points="308.31,43.1 311.59,41.21 311.59,44.99" fill="#7f7f7f" fill-opacity="0.22" stroke="#7f7f7f" stroke-width="0.65"/>
<text x="321.6" y="45.8">Seg.-8</text>
<line x1="34.24" y1="185" x2="34.24" y2="332.8" class="g"/>
<line x1="63.64" y1="185" x2="63.64" y2="332.8" class="g"/>
<line x1="93.05" y1="185" x2="93.05" y2="332.8" class="g"/>
<line x1="122.45" y1="185" x2="122.45" y2="332.8" class="g"/>
<line x1="151.85" y1="185" x2="151.85" y2="332.8" class="g"/>
<line x1="181.26" y1="185" x2="181.26" y2="332.8" class="g"/>
<line x1="210.66" y1="185" x2="210.66" y2="332.8" class="g"/>
<line x1="31.3" y1="314.32" x2="213.6" y2="314.32" class="g"/>
<line x1="31.3" y1="277.38" x2="213.6" y2="277.38" class="g"/>
<line x1="31.3" y1="240.43" x2="213.6" y2="240.43" class="g"/>
<line x1="31.3" y1="203.47" x2="213.6" y2="203.47" class="g"/>
<polyline points="34.24,322.82 36.08,321.45 37.92,320.12 39.75,318.83 41.59,317.58 43.43,316.37 45.27,315.19 47.1,314.05 48.94,312.93 50.78,311.84 52.62,310.77 54.46,309.73 56.29,308.7 58.13,307.69 59.97,306.69 61.81,305.7 63.64,304.72 65.48,303.74 67.32,302.76 69.16,301.79 70.99,300.8 72.83,299.82 74.67,298.82 76.51,297.81 78.35,296.78 80.18,295.74 82.02,294.68 83.86,293.59 85.7,292.48 87.53,291.34 89.37,290.17 91.21,288.96 93.05,287.72 94.88,286.44 96.72,285.12 98.56,283.77 100.4,282.38 102.24,280.97 104.07,279.52 105.91,278.05 107.75,276.56 109.59,275.05 111.42,273.52 113.26,271.97 115.1,270.41 116.94,268.84 118.77,267.25 120.61,265.67 122.45,264.07 124.29,262.48 126.13,260.89 127.96,259.3 129.8,257.74 131.64,256.19 133.48,254.66 135.31,253.16 137.15,251.7 138.99,250.28 140.83,248.91 142.66,247.58 144.5,246.31 146.34,245.1 148.18,243.96 150.02,242.89 151.85,241.9 153.69,240.99 155.53,240.16 157.37,239.41 159.2,238.74 161.04,238.14 162.88,237.61 164.72,237.16 166.55,236.77 168.39,236.46 170.23,236.21 172.07,236.02 173.91,235.9 175.74,235.83 177.58,235.83 179.42,235.88 181.26,235.99 183.09,236.15 184.93,236.37 186.77,236.63 188.61,236.94 190.44,237.3 192.28,237.7 194.12,238.14 195.96,238.63 197.8,239.15 199.63,239.71 201.47,240.31 203.31,240.94 205.15,241.6 206.98,242.29 208.82,243.01 210.66,243.75" fill="none" stroke="#1f77b4" stroke-width="1" stroke-opacity="0.75" stroke-linejoin="round"/>
<polyline points="34.24,312.48 36.08,312.05 37.92,311.56 39.75,311.02 41.59,310.43 43.43,309.79 45.27,309.1 47.1,308.37 48.94,307.6 50.78,306.79 52.62,305.94 54.46,305.06 56.29,304.16 58.13,303.22 59.97,302.26 61.81,301.28 63.64,300.28 65.48,299.27 67.32,298.24 69.16,297.2 70.99,296.16 72.83,295.11 74.67,294.06 76.51,293 78.35,291.96 80.18,290.91 82.02,289.88 83.86,288.86 85.7,287.85 87.53,286.86 89.37,285.89 91.21,284.95 93.05,284.03 94.88,283.13 96.72,282.25 98.56,281.37 100.4,280.48 102.24,279.57 104.07,278.61 105.91,277.61 107.75,276.54 109.59,275.39 111.42,274.16 113.26,272.81 115.1,271.35 116.94,269.76 118.77,268.03 120.61,266.14 122.45,264.07 124.29,261.83 126.13,259.43 127.96,256.88 129.8,254.2 131.64,251.42 133.48,248.55 135.31,245.61 137.15,242.63 138.99,239.61 140.83,236.59 142.66,233.58 144.5,230.6 146.34,227.67 148.18,224.81 150.02,222.03 151.85,219.36 153.69,216.82 155.53,214.41 157.37,212.14 159.2,210 161.04,208.01 162.88,206.17 164.72,204.48 166.55,202.94 168.39,201.57 170.23,200.36 172.07,199.32 173.91,198.46 175.74,197.77 177.58,197.27 179.42,196.95 181.26,196.82 183.09,196.89 184.93,197.16 186.77,197.63 188.61,198.31 190.44,199.2 192.28,200.3 194.12,201.63 195.96,203.18 197.8,204.96 199.63,206.97 201.47,209.22 203.31,211.71 205.15,214.44 206.98,217.43 208.82,220.67 210.66,224.17" fill="none" stroke="#ff7f0e" stroke-width="1" stroke-opacity="0.75" stroke-linejoin="round"/>
<polyline points="34.24,291.42 36.08,290.84 37.92,290.19 39.75,289.47 41.59,288.69 43.43,287.84 45.27,286.95 47.1,286 48.94,285 50.78,283.96 52.62,282.88 54.46,281.78 56.29,280.64 58.13,279.48 59.97,278.3 61.81,277.1 63.64,275.9 65.48,274.69 67.32,273.47 69.16,272.26 70.99,271.06 72.83,269.87 74.67,268.7 76.51,267.55 78.35,266.43 80.18,265.33 82.02,264.27 83.86,263.25 85.7,262.27 87.53,261.35 89.37,260.47 91.21,259.66 93.05,258.9 94.88,258.21 96.72,257.58 98.56,256.99 100.4,256.44 102.24,255.92 104.07,255.42 105.91,254.92 107.75,254.43 109.59,253.92 111.42,253.4 113.26,252.84 115.1,252.25 116.94,251.61 118.77,250.91 120.61,250.14 122.45,249.29 124.29,248.36 126.13,247.35 127.96,246.28 129.8,245.14 131.64,243.96 133.48,242.73 135.31,241.48 137.15,240.21 138.99,238.92 140.83,237.64 142.66,236.36 144.5,235.11 146.34,233.88 148.18,232.68 150.02,231.54 151.85,230.45 153.69,229.42 155.53,228.47 157.37,227.59 159.2,226.78 161.04,226.05 162.88,225.41 164.72,224.85 166.55,224.38 168.39,224 170.23,223.71 172.07,223.52 173.91,223.44 175.74,223.46 177.58,223.58 179.42,223.82 181.26,224.17 183.09,224.63 184.93,225.22 186.77,225.93 188.61,226.77 190.44,227.73 192.28,228.83 194.12,230.07 195.96,231.44 197.8,232.95 199.63,234.62 201.47,236.43 203.31,238.39 205.15,240.5 206.98,242.78 208.82,245.21 210.66,247.81" fill="none" stroke="#2ca02c" stroke-width="1" stroke-opacity="0.75" stroke-linejoin="round"/>
<polyline points="34.24,303.98 36.08,303.47 37.92,302.84 39.75,302.08 41.59,301.21 43.43,300.23 45.27,299.16 47.1,297.99 48.94,296.74 50.78,295.42 52.62,294.03 54.46,292.59 56.29,291.09 58.13,289.55 59.97,287.98 61.81,286.38 63.64,284.77 65.48,283.14 67.32,281.51 69.16,279.89 70.99,278.28 72.83,276.69 74.67,275.13 76.51,273.61 78.35,272.14 80.18,270.72 82.02,269.36 83.86,268.07 85.7,266.86 87.53,265.74 89.37,264.71 91.21,263.78 93.05,262.96 94.88,262.26 96.72,261.66 98.56,261.14 100.4,260.68 102.24,260.28 104.07,259.9 105.91,259.55 107.75,259.18 109.59,258.8 111.42,258.38 113.26,257.9 115.1,257.36 116.94,256.72 118.77,255.97 120.61,255.11 122.45,254.1 124.29,252.93 126.13,251.62 127.96,250.18 129.8,248.63 131.64,246.96 133.48,245.21 135.31,243.38 137.15,241.48 138.99,239.54 140.83,237.55 142.66,235.55 144.5,233.53 146.34,231.52 148.18,229.53 150.02,227.56 151.85,225.64 153.69,223.78 155.53,221.99 157.37,220.26 159.2,218.62 161.04,217.06 162.88,215.59 164.72,214.22 166.55,212.96 168.39,211.81 170.23,210.79 172.07,209.89 173.91,209.12 175.74,208.5 177.58,208.02 179.42,207.7 181.26,207.54 183.09,207.55 184.93,207.73 186.77,208.1 188.61,208.66 190.44,209.41 192.28,210.37 194.12,211.54 195.96,212.93 197.8,214.54 199.63,216.38 201.47,218.46 203.31,220.78 205.15,223.36 206.98,226.19 208.82,229.29 210.66,232.67" fill="none" stroke="#d62728" stroke-width="1" stroke-opacity="0.75" stroke-linejoin="round"/>
<polyline points="34.24,307.67 36.08,307.24 37.92,306.67 39.75,305.97 41.59,305.15 43.43,304.23 45.27,303.2 47.1,302.08 48.94,300.87 50.78,299.59 52.62,298.24 54.46,296.84 56.29,295.38 58.13,293.87 59.97,292.34 61.81,290.78 63.64,289.2 65.48,287.61 67.32,286.02 69.16,284.45 70.99,282.88 72.83,281.35 74.67,279.84 76.51,278.38 78.35,276.97 80.18,275.62 82.02,274.33 83.86,273.12 85.7,272 87.53,270.96 89.37,270.03 91.21,269.21 93.05,268.51 94.88,267.93 96.72,267.45 98.56,267.08 100.4,266.78 102.24,266.54 104.07,266.34 105.91,266.18 107.75,266.03 109.59,265.87 111.42,265.7 113.26,265.49 115.1,265.23 116.94,264.9 118.77,264.48 120.61,263.97 122.45,263.33 124.29,262.57 126.13,261.68 127.96,260.67 129.8,259.55 131.64,258.31 133.48,256.98 135.31,255.54 137.15,254.02 138.99,252.41 140.83,250.73 142.66,248.97 144.5,247.15 146.34,245.26 148.18,243.33 150.02,241.34 151.85,239.32 153.69,237.26 155.53,235.17 157.37,233.08 159.2,230.99 161.04,228.92 162.88,226.88 164.72,224.88 166.55,222.93 168.39,221.05 170.23,219.25 172.07,217.55 173.91,215.95 175.74,214.47 177.58,213.12 179.42,211.91 181.26,210.87 183.09,209.99 184.93,209.29 186.77,208.8 188.61,208.51 190.44,208.44 192.28,208.61 194.12,209.03 195.96,209.7 197.8,210.65 199.63,211.88 201.47,213.42 203.31,215.26 205.15,217.43 206.98,219.94 208.82,222.79 210.66,226.01" fill="none" stroke="#9467bd" stroke-width="1" stroke-opacity="0.75" stroke-linejoin="round"/>
<polyline points="34.24,288.09 36.08,286.79 37.92,285.45 39.75,284.09 41.59,282.69 43.43,281.27 45.27,279.84 47.1,278.4 48.94,276.96 50.78,275.51 52.62,274.08 54.46,272.65 56.29,271.25 58.13,269.87 59.97,268.51 61.81,267.2 63.64,265.92 65.48,264.69 67.32,263.51 69.16,262.39 70.99,261.33 72.83,260.34 74.67,259.43 76.51,258.59 78.35,257.84 80.18,257.18 82.02,256.62 83.86,256.16 85.7,255.8 87.53,255.56 89.37,255.44 91.21,255.44 93.05,255.57 94.88,255.84 96.72,256.22 98.56,256.7 100.4,257.26 102.24,257.87 104.07,258.54 105.91,259.22 107.75,259.91 109.59,260.58 111.42,261.22 113.26,261.81 115.1,262.33 116.94,262.76 118.77,263.09 120.61,263.28 122.45,263.33 124.29,263.23 126.13,262.96 127.96,262.56 129.8,262.01 131.64,261.34 133.48,260.55 135.31,259.65 137.15,258.65 138.99,257.57 140.83,256.4 142.66,255.15 144.5,253.85 146.34,252.49 148.18,251.09 150.02,249.65 151.85,248.18 153.69,246.7 155.53,245.21 157.37,243.73 159.2,242.26 161.04,240.81 162.88,239.39 164.72,238.02 166.55,236.7 168.39,235.45 170.23,234.27 172.07,233.18 173.91,232.18 175.74,231.29 177.58,230.51 179.42,229.86 181.26,229.34 183.09,228.97 184.93,228.75 186.77,228.7 188.61,228.83 190.44,229.14 192.28,229.65 194.12,230.37 195.96,231.31 197.8,232.47 199.63,233.87 201.47,235.51 203.31,237.42 205.15,239.59 206.98,242.04 208.82,244.78 210.66,247.81" fill="none" stroke="#8c564b" stroke-width="1" stroke-opacity="0.75" stroke-linejoin="round"/>
<polyline points="34.24,292.16 36.08,291.08 37.92,289.98 39.75,288.88 41.59,287.76 43.43,286.64 45.27,285.5 47.1,284.37 48.94,283.23 50.78,282.1 52.62,280.97 54.46,279.85 56.29,278.73 58.13,277.63 59.97,276.54 61.81,275.47 63.64,274.42 65.48,273.39 67.32,272.38 69.16,271.4 70.99,270.45 72.83,269.53 74.67,268.65 76.51,267.8 78.35,266.99 80.18,266.22 82.02,265.5 83.86,264.82 85.7,264.19 87.53,263.62 89.37,263.1 91.21,262.63 93.05,262.23 94.88,261.88 96.72,261.58 98.56,261.33 100.4,261.11 102.24,260.9 104.07,260.71 105.91,260.52 107.75,260.31 109.59,260.09 111.42,259.83 113.26,259.53 115.1,259.18 116.94,258.77 118.77,258.28 120.61,257.71 122.45,257.05 124.29,256.29 126.13,255.43 127.96,254.49 129.8,253.47 131.64,252.39 133.48,251.24 135.31,250.05 137.15,248.82 138.99,247.55 140.83,246.26 142.66,244.96 144.5,243.66 146.34,242.36 148.18,241.07 150.02,239.81 151.85,238.58 153.69,237.39 155.53,236.24 157.37,235.15 159.2,234.11 161.04,233.12 162.88,232.21 164.72,231.35 166.55,230.58 168.39,229.88 170.23,229.26 172.07,228.72 173.91,228.28 175.74,227.93 177.58,227.68 179.42,227.53 181.26,227.49 183.09,227.57 184.93,227.76 186.77,228.07 188.61,228.51 190.44,229.08 192.28,229.78 194.12,230.63 195.96,231.61 197.8,232.75 199.63,234.04 201.47,235.48 203.31,237.09 205.15,238.87 206.98,240.81 208.82,242.93 210.66,245.23" fill="none" stroke="#e377c2" stroke-width="1" stroke-opacity="0.75" stroke-linejoin="round"/>
<polyline points="34.24,320.98 36.08,319.78 37.92,318.62 39.75,317.5 41.59,316.4 43.43,315.33 45.27,314.28 47.1,313.26 48.94,312.25 50.78,311.27 52.62,310.3 54.46,309.35 56.29,308.41 58.13,307.47 59.97,306.55 61.81,305.63 63.64,304.72 65.48,303.8 67.32,302.89 69.16,301.97 70.99,301.05 72.83,300.12 74.67,299.19 76.51,298.24 78.35,297.27 80.18,296.3 82.02,295.3 83.86,294.28 85.7,293.24 87.53,292.18 89.37,291.09 91.21,289.98 93.05,288.83 94.88,287.65 96.72,286.44 98.56,285.22 100.4,283.98 102.24,282.72 104.07,281.47 105.91,280.22 107.75,278.97 109.59,277.74 111.42,276.53 113.26,275.34 115.1,274.18 116.94,273.06 118.77,271.99 120.61,270.96 122.45,269.99 124.29,269.07 126.13,268.21 127.96,267.4 129.8,266.65 131.64,265.93 133.48,265.26 135.31,264.63 137.15,264.03 138.99,263.46 140.83,262.92 142.66,262.4 144.5,261.9 146.34,261.41 148.18,260.94 150.02,260.47 151.85,260.01 153.69,259.55 155.53,259.09 157.37,258.63 159.2,258.17 161.04,257.72 162.88,257.27 164.72,256.82 166.55,256.37 168.39,255.93 170.23,255.5 172.07,255.06 173.91,254.64 175.74,254.22 177.58,253.8 179.42,253.39 181.26,252.99 183.09,252.59 184.93,252.21 186.77,251.83 188.61,251.45 190.44,251.09 192.28,250.74 194.12,250.4 195.96,250.06 197.8,249.74 199.63,249.43 201.47,249.13 203.31,248.84 205.15,248.57 206.98,248.3 208.82,248.05 210.66,247.81" fill="none" stroke="#7f7f7f" stroke-width="1" stroke-opacity="0.75" stroke-linejoin="round"/>
<circle cx="34.24" cy="322.82" r="1.9" fill="#1f77b4" fill-opacity="0.22" stroke="#1f77b4" stroke-width="0.65"/>
<circle cx="63.64" cy="304.72" r="1.9" fill="#1f77b4" fill-opacity="0.22" stroke="#1f77b4" stroke-width="0.65"/>
<circle cx="93.05" cy="287.72" r="1.9" fill="#1f77b4" fill-opacity="0.22" stroke="#1f77b4" stroke-width="0.65"/>
<circle cx="122.45" cy="264.07" r="1.9" fill="#1f77b4" fill-opacity="0.22" stroke="#1f77b4" stroke-width="0.65"/>
<circle cx="151.85" cy="241.9" r="1.9" fill="#1f77b4" fill-opacity="0.22" stroke="#1f77b4" stroke-width="0.65"/>
<circle cx="181.26" cy="235.99" r="1.9" fill="#1f77b4" fill-opacity="0.22" stroke="#1f77b4" stroke-width="0.65"/>
<circle cx="210.66" cy="243.75" r="1.9" fill="#1f77b4" fill-opacity="0.22" stroke="#1f77b4" stroke-width="0.65"/>
<polygon points="34.24,310.29 36.13,313.57 32.35,313.57" fill="#ff7f0e" fill-opacity="0.22" stroke="#ff7f0e" stroke-width="0.65"/>
<polygon points="63.64,298.1 65.54,301.38 61.75,301.38" fill="#ff7f0e" fill-opacity="0.22" stroke="#ff7f0e" stroke-width="0.65"/>
<polygon points="93.05,281.84 94.94,285.12 91.15,285.12" fill="#ff7f0e" fill-opacity="0.22" stroke="#ff7f0e" stroke-width="0.65"/>
<polygon points="122.45,261.89 124.34,265.17 120.56,265.17" fill="#ff7f0e" fill-opacity="0.22" stroke="#ff7f0e" stroke-width="0.65"/>
<polygon points="151.85,217.18 153.75,220.46 149.96,220.46" fill="#ff7f0e" fill-opacity="0.22" stroke="#ff7f0e" stroke-width="0.65"/>
<polygon points="181.26,194.64 183.15,197.92 179.36,197.92" fill="#ff7f0e" fill-opacity="0.22" stroke="#ff7f0e" stroke-width="0.65"/>
<polygon points="210.66,221.98 212.55,225.26 208.77,225.26" fill="#ff7f0e" fill-opacity="0.22" stroke="#ff7f0e" stroke-width="0.65"/>
<path d="M32.44,289.61L36.05,293.22M32.44,293.22L36.05,289.61" stroke="#2ca02c" stroke-width="1.1" fill="none"/>
<path d="M61.84,274.09L65.45,277.7M61.84,277.7L65.45,274.09" stroke="#2ca02c" stroke-width="1.1" fill="none"/>
<path d="M91.24,257.09L94.85,260.7M91.24,260.7L94.85,257.09" stroke="#2ca02c" stroke-width="1.1" fill="none"/>
<path d="M120.64,247.49L124.25,251.1M120.64,251.1L124.25,247.49" stroke="#2ca02c" stroke-width="1.1" fill="none"/>
<path d="M150.05,228.64L153.66,232.25M150.05,232.25L153.66,228.64" stroke="#2ca02c" stroke-width="1.1" fill="none"/>
<path d="M179.45,222.36L183.06,225.97M179.45,225.97L183.06,222.36" stroke="#2ca02c" stroke-width="1.1" fill="none"/>
<path d="M208.85,246.01L212.46,249.62M208.85,249.62L212.46,246.01" stroke="#2ca02c" stroke-width="1.1" fill="none"/>
<polygon points="34.24,306.16 32.35,302.89 36.13,302.89" fill="#d62728" fill-opacity="0.22" stroke="#d62728" stroke-width="0.65"/>
<polygon points="63.64,286.95 61.75,283.67 65.54,283.67" fill="#d62728" fill-opacity="0.22" stroke="#d62728" stroke-width="0.65"/>
<polygon points="93.05,265.15 91.15,261.87 94.94,261.87" fill="#d62728" fill-opacity="0.22" stroke="#d62728" stroke-width="0.65"/>
<polygon points="122.45,256.28 120.56,253 124.34,253" fill="#d62728" fill-opacity="0.22" stroke="#d62728" stroke-width="0.65"/>
<polygon points="151.85,227.83 149.96,224.55 153.75,224.55" fill="#d62728" fill-opacity="0.22" stroke="#d62728" stroke-width="0.65"/>
<polygon points="181.26,209.72 179.36,206.45 183.15,206.45" fill="#d62728" fill-opacity="0.22" stroke="#d62728" stroke-width="0.65"/>
<polygon points="210.66,234.85 208.77,231.57 212.55,231.57" fill="#d62728" fill-opacity="0.22" stroke="#d62728" stroke-width="0.65"/>
<polygon points="34.24,305.39 34.85,306.83 36.41,306.97 35.23,308 35.58,309.52 34.24,308.72 32.9,309.52 33.25,308 32.07,306.97 33.63,306.83" fill="#9467bd" fill-opacity="0.22" stroke="#9467bd" stroke-width="0.65"/>
<polygon points="63.64,286.92 64.26,288.35 65.81,288.49 64.64,289.52 64.98,291.04 63.64,290.24 62.3,291.04 62.65,289.52 61.48,288.49 63.03,288.35" fill="#9467bd" fill-opacity="0.22" stroke="#9467bd" stroke-width="0.65"/>
<polygon points="93.05,266.23 93.66,267.66 95.22,267.8 94.04,268.83 94.39,270.35 93.05,269.55 91.71,270.35 92.05,268.83 90.88,267.8 92.43,267.66" fill="#9467bd" fill-opacity="0.22" stroke="#9467bd" stroke-width="0.65"/>
<polygon points="122.45,261.05 123.06,262.49 124.62,262.63 123.44,263.66 123.79,265.18 122.45,264.38 121.11,265.18 121.46,263.66 120.28,262.63 121.84,262.49" fill="#9467bd" fill-opacity="0.22" stroke="#9467bd" stroke-width="0.65"/>
<polygon points="151.85,237.04 152.47,238.47 154.02,238.61 152.85,239.64 153.19,241.16 151.85,240.36 150.51,241.16 150.86,239.64 149.68,238.61 151.24,238.47" fill="#9467bd" fill-opacity="0.22" stroke="#9467bd" stroke-width="0.65"/>
<polygon points="181.26,208.59 181.87,210.02 183.42,210.16 182.25,211.19 182.6,212.71 181.26,211.91 179.92,212.71 180.26,211.19 179.09,210.16 180.64,210.02" fill="#9467bd" fill-opacity="0.22" stroke="#9467bd" stroke-width="0.65"/>
<polygon points="210.66,223.73 211.27,225.17 212.83,225.31 211.65,226.34 212,227.86 210.66,227.06 209.32,227.86 209.67,226.34 208.49,225.31 210.05,225.17" fill="#9467bd" fill-opacity="0.22" stroke="#9467bd" stroke-width="0.65"/>
<polygon points="36.43,288.09 33.15,289.98 33.15,286.2" fill="#8c564b" fill-opacity="0.22" stroke="#8c564b" stroke-width="0.65"/>
<polygon points="65.83,265.92 62.55,267.81 62.55,264.03" fill="#8c564b" fill-opacity="0.22" stroke="#8c564b" stroke-width="0.65"/>
<polygon points="95.23,255.57 91.95,257.47 91.95,253.68" fill="#8c564b" fill-opacity="0.22" stroke="#8c564b" stroke-width="0.65"/>
<polygon points="124.63,263.33 121.36,265.23 121.36,261.44" fill="#8c564b" fill-opacity="0.22" stroke="#8c564b" stroke-width="0.65"/>
<polygon points="154.04,248.18 150.76,250.08 150.76,246.29" fill="#8c564b" fill-opacity="0.22" stroke="#8c564b" stroke-width="0.65"/>
<polygon points="183.44,229.34 180.16,231.23 180.16,227.45" fill="#8c564b" fill-opacity="0.22" stroke="#8c564b" stroke-width="0.65"/>
<polygon points="212.84,247.81 209.57,249.71 209.57,245.92" fill="#8c564b" fill-opacity="0.22" stroke="#8c564b" stroke-width="0.65"/>
<polygon points="34.24,289.97 35.99,292.16 34.24,294.34 32.49,292.16" fill="#e377c2" fill-opacity="0.22" stroke="#e377c2" stroke-width="0.65"/>
<polygon points="63.64,272.23 65.39,274.42 63.64,276.6 61.9,274.42" fill="#e377c2" fill-opacity="0.22" stroke="#e377c2" stroke-width="0.65"/>
<polygon points="93.05,260.04 94.79,262.23 93.05,264.41 91.3,262.23" fill="#e377c2" fill-opacity="0.22" stroke="#e377c2" stroke-width="0.65"/>
<polygon points="122.45,254.87 124.2,257.05 122.45,259.24 120.7,257.05" fill="#e377c2" fill-opacity="0.22" stroke="#e377c2" stroke-width="0.65"/>
<polygon points="151.85,236.39 153.6,238.58 151.85,240.76 150.11,238.58" fill="#e377c2" fill-opacity="0.22" stroke="#e377c2" stroke-width="0.65"/>
<polygon points="181.26,225.31 183,227.49 181.26,229.68 179.51,227.49" fill="#e377c2" fill-opacity="0.22" stroke="#e377c2" stroke-width="0.65"/>
<polygon points="210.66,243.04 212.41,245.23 210.66,247.41 208.91,245.23" fill="#e377c2" fill-opacity="0.22" stroke="#e377c2" stroke-width="0.65"/>
<polygon points="32.06,320.98 35.33,319.08 35.33,322.87" fill="#7f7f7f" fill-opacity="0.22" stroke="#7f7f7f" stroke-width="0.65"/>
<polygon points="61.46,304.72 64.74,302.83 64.74,306.61" fill="#7f7f7f" fill-opacity="0.22" stroke="#7f7f7f" stroke-width="0.65"/>
<polygon points="90.86,288.83 94.14,286.94 94.14,290.72" fill="#7f7f7f" fill-opacity="0.22" stroke="#7f7f7f" stroke-width="0.65"/>
<polygon points="120.26,269.99 123.54,268.09 123.54,271.88" fill="#7f7f7f" fill-opacity="0.22" stroke="#7f7f7f" stroke-width="0.65"/>
<polygon points="149.67,260.01 152.95,258.12 152.95,261.9" fill="#7f7f7f" fill-opacity="0.22" stroke="#7f7f7f" stroke-width="0.65"/>
<polygon points="179.07,252.99 182.35,251.1 182.35,254.88" fill="#7f7f7f" fill-opacity="0.22" stroke="#7f7f7f" stroke-width="0.65"/>
<polygon points="208.47,247.81 211.75,245.92 211.75,249.71" fill="#7f7f7f" fill-opacity="0.22" stroke="#7f7f7f" stroke-width="0.65"/>
<rect x="31.3" y="185" width="182.3" height="147.8" class="sp"/>
<line x1="34.24" y1="332.8" x2="34.24" y2="334.4" class="tk"/>
<line x1="48.94" y1="332.8" x2="48.94" y2="334.4" class="tk"/>
<line x1="63.64" y1="332.8" x2="63.64" y2="334.4" class="tk"/>
<line x1="78.35" y1="332.8" x2="78.35" y2="334.4" class="tk"/>
<line x1="93.05" y1="332.8" x2="93.05" y2="334.4" class="tk"/>
<line x1="107.75" y1="332.8" x2="107.75" y2="334.4" class="tk"/>
<line x1="122.45" y1="332.8" x2="122.45" y2="334.4" class="tk"/>
<line x1="137.15" y1="332.8" x2="137.15" y2="334.4" class="tk"/>
<line x1="151.85" y1="332.8" x2="151.85" y2="334.4" class="tk"/>
<line x1="166.55" y1="332.8" x2="166.55" y2="334.4" class="tk"/>
<line x1="181.26" y1="332.8" x2="181.26" y2="334.4" class="tk"/>
<line x1="195.96" y1="332.8" x2="195.96" y2="334.4" class="tk"/>
<line x1="210.66" y1="332.8" x2="210.66" y2="334.4" class="tk"/>
<text x="34.24" y="341.6" text-anchor="middle">12</text>
<text x="63.64" y="341.6" text-anchor="middle">14</text>
<text x="93.05" y="341.6" text-anchor="middle">16</text>
<text x="122.45" y="341.6" text-anchor="middle">18</text>
<text x="151.85" y="341.6" text-anchor="middle">20</text>
<text x="181.26" y="341.6" text-anchor="middle">22</text>
<text x="210.66" y="341.6" text-anchor="middle">24</text>
<line x1="29.7" y1="332.8" x2="31.3" y2="332.8" class="tk"/>
<line x1="29.7" y1="314.32" x2="31.3" y2="314.32" class="tk"/>
<line x1="29.7" y1="295.85" x2="31.3" y2="295.85" class="tk"/>
<line x1="29.7" y1="277.38" x2="31.3" y2="277.38" class="tk"/>
<line x1="29.7" y1="258.9" x2="31.3" y2="258.9" class="tk"/>
<line x1="29.7" y1="240.43" x2="31.3" y2="240.43" class="tk"/>
<line x1="29.7" y1="221.95" x2="31.3" y2="221.95" class="tk"/>
<line x1="29.7" y1="203.47" x2="31.3" y2="203.47" class="tk"/>
<line x1="29.7" y1="185" x2="31.3" y2="185" class="tk"/>
<text x="29.1" y="317.62" text-anchor="end">2</text>
<text x="29.1" y="280.68" text-anchor="end">3</text>
<text x="29.1" y="243.73" text-anchor="end">4</text>
<text x="29.1" y="206.78" text-anchor="end">5</text>
<text x="122.45" y="351.4" text-anchor="middle" class="al">Speed over ground (knots)</text>
<text transform="translate(13.6,258.9) rotate(-90)" text-anchor="middle" class="al">Daily fuel consumption of</text>
<text transform="translate(21,258.9) rotate(-90)" text-anchor="middle" class="al">the main engine (t/h)</text>
<text x="111" y="363.1" text-anchor="middle" class="pl">(e)</text>
<rect x="33.5" y="186.6" width="91" height="42" fill="#fff" fill-opacity="0.85"/>
<line x1="38.9" y1="193.3" x2="53.4" y2="193.3" stroke="#1f77b4" stroke-width="1" stroke-opacity="0.85"/>
<circle cx="46.1" cy="193.3" r="1.9" fill="#1f77b4" fill-opacity="0.22" stroke="#1f77b4" stroke-width="0.65"/>
<text x="57.2" y="196">Seg.-1</text>
<line x1="38.9" y1="203.6" x2="53.4" y2="203.6" stroke="#ff7f0e" stroke-width="1" stroke-opacity="0.85"/>
<polygon points="46.1,201.42 47.99,204.69 44.21,204.69" fill="#ff7f0e" fill-opacity="0.22" stroke="#ff7f0e" stroke-width="0.65"/>
<text x="57.2" y="206.3">Seg.-2</text>
<line x1="38.9" y1="213.9" x2="53.4" y2="213.9" stroke="#2ca02c" stroke-width="1" stroke-opacity="0.85"/>
<path d="M44.3,212.09L47.91,215.71M44.3,215.71L47.91,212.09" stroke="#2ca02c" stroke-width="1.1" fill="none"/>
<text x="57.2" y="216.6">Seg.-3</text>
<line x1="38.9" y1="224.2" x2="53.4" y2="224.2" stroke="#d62728" stroke-width="1" stroke-opacity="0.85"/>
<polygon points="46.1,226.39 44.21,223.11 47.99,223.11" fill="#d62728" fill-opacity="0.22" stroke="#d62728" stroke-width="0.65"/>
<text x="57.2" y="226.9">Seg.-4</text>
<line x1="84.4" y1="193.3" x2="98.9" y2="193.3" stroke="#9467bd" stroke-width="1" stroke-opacity="0.85"/>
<polygon points="91.6,191.02 92.21,192.45 93.77,192.6 92.59,193.62 92.94,195.14 91.6,194.34 90.26,195.14 90.61,193.62 89.43,192.6 90.99,192.45" fill="#9467bd" fill-opacity="0.22" stroke="#9467bd" stroke-width="0.65"/>
<text x="102.7" y="196">Seg.-5</text>
<line x1="84.4" y1="203.6" x2="98.9" y2="203.6" stroke="#8c564b" stroke-width="1" stroke-opacity="0.85"/>
<polygon points="93.79,203.6 90.51,205.49 90.51,201.71" fill="#8c564b" fill-opacity="0.22" stroke="#8c564b" stroke-width="0.65"/>
<text x="102.7" y="206.3">Seg.-6</text>
<line x1="84.4" y1="213.9" x2="98.9" y2="213.9" stroke="#e377c2" stroke-width="1" stroke-opacity="0.85"/>
<polygon points="91.6,211.72 93.35,213.9 91.6,216.09 89.85,213.9" fill="#e377c2" fill-opacity="0.22" stroke="#e377c2" stroke-width="0.65"/>
<text x="102.7" y="216.6">Seg.-7</text>
<line x1="84.4" y1="224.2" x2="98.9" y2="224.2" stroke="#7f7f7f" stroke-width="1" stroke-opacity="0.85"/>
<polygon points="89.42,224.2 92.69,222.31 92.69,226.09" fill="#7f7f7f" fill-opacity="0.22" stroke="#7f7f7f" stroke-width="0.65"/>
<text x="102.7" y="226.9">Seg.-8</text>
<line x1="254.89" y1="187.7" x2="254.89" y2="333.3" class="g"/>
<line x1="283.79" y1="187.7" x2="283.79" y2="333.3" class="g"/>
<line x1="312.7" y1="187.7" x2="312.7" y2="333.3" class="g"/>
<line x1="341.6" y1="187.7" x2="341.6" y2="333.3" class="g"/>
<line x1="370.5" y1="187.7" x2="370.5" y2="333.3" class="g"/>
<line x1="399.41" y1="187.7" x2="399.41" y2="333.3" class="g"/>
<line x1="428.31" y1="187.7" x2="428.31" y2="333.3" class="g"/>
<line x1="252" y1="333.3" x2="431.2" y2="333.3" class="g"/>
<line x1="252" y1="304.18" x2="431.2" y2="304.18" class="g"/>
<line x1="252" y1="275.06" x2="431.2" y2="275.06" class="g"/>
<line x1="252" y1="245.94" x2="431.2" y2="245.94" class="g"/>
<line x1="252" y1="216.82" x2="431.2" y2="216.82" class="g"/>
<line x1="252" y1="187.7" x2="431.2" y2="187.7" class="g"/>
<polyline points="254.89,310.3 256.7,309.55 258.5,308.82 260.31,308.11 262.12,307.4 263.92,306.71 265.73,306.03 267.54,305.35 269.34,304.67 271.15,304 272.95,303.33 274.76,302.66 276.57,301.99 278.37,301.31 280.18,300.62 281.99,299.93 283.79,299.23 285.6,298.52 287.41,297.79 289.21,297.05 291.02,296.29 292.83,295.52 294.63,294.72 296.44,293.9 298.25,293.06 300.05,292.19 301.86,291.3 303.66,290.37 305.47,289.42 307.28,288.43 309.08,287.41 310.89,286.35 312.7,285.25 314.5,284.12 316.31,282.95 318.12,281.74 319.92,280.51 321.73,279.25 323.54,277.98 325.34,276.68 327.15,275.37 328.95,274.05 330.76,272.73 332.57,271.4 334.37,270.08 336.18,268.76 337.99,267.45 339.79,266.15 341.6,264.87 343.41,263.61 345.21,262.37 347.02,261.15 348.83,259.96 350.63,258.8 352.44,257.66 354.25,256.56 356.05,255.48 357.86,254.45 359.66,253.44 361.47,252.48 363.28,251.55 365.08,250.67 366.89,249.82 368.7,249.02 370.5,248.27 372.31,247.56 374.12,246.9 375.92,246.28 377.73,245.7 379.54,245.16 381.34,244.66 383.15,244.18 384.95,243.74 386.76,243.33 388.57,242.94 390.37,242.57 392.18,242.22 393.99,241.89 395.79,241.58 397.6,241.28 399.41,240.99 401.21,240.71 403.02,240.43 404.83,240.16 406.63,239.88 408.44,239.61 410.25,239.33 412.05,239.04 413.86,238.75 415.66,238.44 417.47,238.12 419.28,237.78 421.08,237.42 422.89,237.04 424.7,236.64 426.5,236.21 428.31,235.75" fill="none" stroke="#1f77b4" stroke-width="1" stroke-opacity="0.75" stroke-linejoin="round"/>
<polyline points="254.89,307.97 256.7,307.24 258.5,306.48 260.31,305.68 262.12,304.84 263.92,303.97 265.73,303.07 267.54,302.14 269.34,301.19 271.15,300.21 272.95,299.21 274.76,298.18 276.57,297.14 278.37,296.08 280.18,295.01 281.99,293.92 283.79,292.82 285.6,291.72 287.41,290.6 289.21,289.48 291.02,288.36 292.83,287.23 294.63,286.11 296.44,284.99 298.25,283.87 300.05,282.76 301.86,281.66 303.66,280.57 305.47,279.5 307.28,278.43 309.08,277.39 310.89,276.36 312.7,275.35 314.5,274.37 316.31,273.4 318.12,272.45 319.92,271.51 321.73,270.58 323.54,269.65 325.34,268.73 327.15,267.8 328.95,266.87 330.76,265.93 332.57,264.98 334.37,264.01 336.18,263.03 337.99,262.02 339.79,260.98 341.6,259.92 343.41,258.82 345.21,257.7 347.02,256.55 348.83,255.37 350.63,254.18 352.44,252.98 354.25,251.76 356.05,250.54 357.86,249.32 359.66,248.1 361.47,246.88 363.28,245.67 365.08,244.47 366.89,243.29 368.7,242.13 370.5,240.99 372.31,239.88 374.12,238.79 375.92,237.74 377.73,236.71 379.54,235.71 381.34,234.74 383.15,233.8 384.95,232.89 386.76,232.01 388.57,231.16 390.37,230.34 392.18,229.55 393.99,228.8 395.79,228.07 397.6,227.38 399.41,226.72 401.21,226.09 403.02,225.5 404.83,224.94 406.63,224.42 408.44,223.92 410.25,223.47 412.05,223.05 413.86,222.66 415.66,222.31 417.47,222 419.28,221.72 421.08,221.48 422.89,221.28 424.7,221.11 426.5,220.99 428.31,220.9" fill="none" stroke="#ff7f0e" stroke-width="1" stroke-opacity="0.75" stroke-linejoin="round"/>
<polyline points="254.89,297.77 256.7,296.32 258.5,294.88 260.31,293.45 262.12,292.03 263.92,290.63 265.73,289.25 267.54,287.87 269.34,286.51 271.15,285.17 272.95,283.84 274.76,282.53 276.57,281.24 278.37,279.96 280.18,278.7 281.99,277.45 283.79,276.22 285.6,275.02 287.41,273.83 289.21,272.66 291.02,271.5 292.83,270.37 294.63,269.26 296.44,268.17 298.25,267.1 300.05,266.05 301.86,265.02 303.66,264.02 305.47,263.04 307.28,262.08 309.08,261.14 310.89,260.22 312.7,259.34 314.5,258.47 316.31,257.62 318.12,256.79 319.92,255.97 321.73,255.16 323.54,254.35 325.34,253.53 327.15,252.71 328.95,251.88 330.76,251.03 332.57,250.16 334.37,249.27 336.18,248.35 337.99,247.39 339.79,246.39 341.6,245.36 343.41,244.27 345.21,243.15 347.02,241.99 348.83,240.79 350.63,239.57 352.44,238.33 354.25,237.07 356.05,235.8 357.86,234.53 359.66,233.25 361.47,231.98 363.28,230.71 365.08,229.46 366.89,228.23 368.7,227.02 370.5,225.85 372.31,224.7 374.12,223.59 375.92,222.52 377.73,221.48 379.54,220.47 381.34,219.5 383.15,218.56 384.95,217.65 386.76,216.78 388.57,215.94 390.37,215.13 392.18,214.35 393.99,213.61 395.79,212.9 397.6,212.22 399.41,211.58 401.21,210.96 403.02,210.38 404.83,209.83 406.63,209.31 408.44,208.82 410.25,208.37 412.05,207.94 413.86,207.54 415.66,207.18 417.47,206.84 419.28,206.54 421.08,206.27 422.89,206.02 424.7,205.81 426.5,205.62 428.31,205.46" fill="none" stroke="#2ca02c" stroke-width="1" stroke-opacity="0.75" stroke-linejoin="round"/>
<polyline points="254.89,300.39 256.7,298.65 258.5,296.95 260.31,295.3 262.12,293.69 263.92,292.12 265.73,290.59 267.54,289.1 269.34,287.65 271.15,286.24 272.95,284.87 274.76,283.54 276.57,282.24 278.37,280.98 280.18,279.75 281.99,278.55 283.79,277.39 285.6,276.26 287.41,275.16 289.21,274.09 291.02,273.05 292.83,272.04 294.63,271.06 296.44,270.1 298.25,269.17 300.05,268.26 301.86,267.38 303.66,266.52 305.47,265.68 307.28,264.86 309.08,264.07 310.89,263.29 312.7,262.54 314.5,261.8 316.31,261.07 318.12,260.35 319.92,259.64 321.73,258.91 323.54,258.18 325.34,257.44 327.15,256.67 328.95,255.88 330.76,255.05 332.57,254.19 334.37,253.29 336.18,252.34 337.99,251.33 339.79,250.27 341.6,249.14 343.41,247.95 345.21,246.69 347.02,245.38 348.83,244.02 350.63,242.62 352.44,241.19 354.25,239.73 356.05,238.26 357.86,236.77 359.66,235.28 361.47,233.8 363.28,232.33 365.08,230.88 366.89,229.46 368.7,228.07 370.5,226.72 372.31,225.42 374.12,224.17 375.92,222.97 377.73,221.82 379.54,220.72 381.34,219.66 383.15,218.65 384.95,217.68 386.76,216.76 388.57,215.89 390.37,215.06 392.18,214.28 393.99,213.54 395.79,212.84 397.6,212.19 399.41,211.58 401.21,211.01 403.02,210.48 404.83,210 406.63,209.55 408.44,209.15 410.25,208.78 412.05,208.45 413.86,208.17 415.66,207.92 417.47,207.71 419.28,207.53 421.08,207.4 422.89,207.3 424.7,207.23 426.5,207.2 428.31,207.21" fill="none" stroke="#d62728" stroke-width="1" stroke-opacity="0.75" stroke-linejoin="round"/>
<polyline points="254.89,306.8 256.7,305.7 258.5,304.59 260.31,303.48 262.12,302.38 263.92,301.27 265.73,300.16 267.54,299.04 269.34,297.93 271.15,296.82 272.95,295.71 274.76,294.59 276.57,293.48 278.37,292.37 280.18,291.26 281.99,290.15 283.79,289.04 285.6,287.93 287.41,286.82 289.21,285.72 291.02,284.61 292.83,283.51 294.63,282.41 296.44,281.31 298.25,280.22 300.05,279.12 301.86,278.03 303.66,276.95 305.47,275.86 307.28,274.78 309.08,273.71 310.89,272.63 312.7,271.57 314.5,270.5 316.31,269.44 318.12,268.38 319.92,267.32 321.73,266.26 323.54,265.19 325.34,264.12 327.15,263.05 328.95,261.97 330.76,260.88 332.57,259.78 334.37,258.67 336.18,257.55 337.99,256.41 339.79,255.26 341.6,254.09 343.41,252.91 345.21,251.71 347.02,250.49 348.83,249.27 350.63,248.04 352.44,246.81 354.25,245.57 356.05,244.34 357.86,243.11 359.66,241.89 361.47,240.68 363.28,239.48 365.08,238.3 366.89,237.14 368.7,235.99 370.5,234.87 372.31,233.78 374.12,232.72 375.92,231.68 377.73,230.67 379.54,229.69 381.34,228.74 383.15,227.82 384.95,226.93 386.76,226.06 388.57,225.23 390.37,224.43 392.18,223.66 393.99,222.92 395.79,222.21 397.6,221.54 399.41,220.9 401.21,220.29 403.02,219.71 404.83,219.17 406.63,218.66 408.44,218.19 410.25,217.75 412.05,217.35 413.86,216.98 415.66,216.65 417.47,216.35 419.28,216.09 421.08,215.87 422.89,215.69 424.7,215.54 426.5,215.43 428.31,215.36" fill="none" stroke="#9467bd" stroke-width="1" stroke-opacity="0.75" stroke-linejoin="round"/>
<polyline points="254.89,291.37 256.7,289.67 258.5,288.06 260.31,286.52 262.12,285.06 263.92,283.66 265.73,282.33 267.54,281.06 269.34,279.85 271.15,278.69 272.95,277.59 274.76,276.53 276.57,275.52 278.37,274.55 280.18,273.62 281.99,272.72 283.79,271.86 285.6,271.02 287.41,270.2 289.21,269.41 291.02,268.63 292.83,267.86 294.63,267.11 296.44,266.36 298.25,265.61 300.05,264.87 301.86,264.12 303.66,263.36 305.47,262.59 307.28,261.81 309.08,261 310.89,260.18 312.7,259.34 314.5,258.46 316.31,257.56 318.12,256.62 319.92,255.66 321.73,254.67 323.54,253.64 325.34,252.59 327.15,251.5 328.95,250.38 330.76,249.22 332.57,248.04 334.37,246.81 336.18,245.56 337.99,244.26 339.79,242.94 341.6,241.57 343.41,240.17 345.21,238.74 347.02,237.28 348.83,235.81 350.63,234.32 352.44,232.83 354.25,231.33 356.05,229.84 357.86,228.37 359.66,226.91 361.47,225.47 363.28,224.06 365.08,222.69 366.89,221.37 368.7,220.08 370.5,218.86 372.31,217.69 374.12,216.58 375.92,215.53 377.73,214.53 379.54,213.59 381.34,212.7 383.15,211.86 384.95,211.07 386.76,210.33 388.57,209.63 390.37,208.98 392.18,208.37 393.99,207.8 395.79,207.28 397.6,206.79 399.41,206.34 401.21,205.92 403.02,205.54 404.83,205.19 406.63,204.87 408.44,204.57 410.25,204.31 412.05,204.07 413.86,203.86 415.66,203.67 417.47,203.5 419.28,203.35 421.08,203.22 422.89,203.1 424.7,203 426.5,202.92 428.31,202.84" fill="none" stroke="#8c564b" stroke-width="1" stroke-opacity="0.75" stroke-linejoin="round"/>
<polyline points="254.89,296.32 256.7,295.27 258.5,294.23 260.31,293.2 262.12,292.17 263.92,291.15 265.73,290.13 267.54,289.12 269.34,288.12 271.15,287.12 272.95,286.13 274.76,285.14 276.57,284.16 278.37,283.19 280.18,282.22 281.99,281.26 283.79,280.3 285.6,279.35 287.41,278.41 289.21,277.47 291.02,276.53 292.83,275.6 294.63,274.68 296.44,273.76 298.25,272.85 300.05,271.94 301.86,271.04 303.66,270.15 305.47,269.25 307.28,268.37 309.08,267.49 310.89,266.61 312.7,265.74 314.5,264.88 316.31,264.01 318.12,263.15 319.92,262.29 321.73,261.42 323.54,260.55 325.34,259.68 327.15,258.79 328.95,257.9 330.76,256.99 332.57,256.07 334.37,255.13 336.18,254.18 337.99,253.2 339.79,252.2 341.6,251.18 343.41,250.14 345.21,249.07 347.02,247.98 348.83,246.88 350.63,245.76 352.44,244.64 354.25,243.51 356.05,242.38 357.86,241.25 359.66,240.13 361.47,239.02 363.28,237.92 365.08,236.83 366.89,235.77 368.7,234.73 370.5,233.71 372.31,232.72 374.12,231.76 375.92,230.83 377.73,229.93 379.54,229.05 381.34,228.2 383.15,227.38 384.95,226.57 386.76,225.79 388.57,225.03 390.37,224.3 392.18,223.58 393.99,222.88 395.79,222.2 397.6,221.54 399.41,220.9 401.21,220.27 403.02,219.65 404.83,219.06 406.63,218.47 408.44,217.9 410.25,217.33 412.05,216.78 413.86,216.24 415.66,215.71 417.47,215.18 419.28,214.67 421.08,214.16 422.89,213.65 424.7,213.15 426.5,212.65 428.31,212.16" fill="none" stroke="#e377c2" stroke-width="1" stroke-opacity="0.75" stroke-linejoin="round"/>
<polyline points="254.89,317.28 256.7,316.04 258.5,314.83 260.31,313.66 262.12,312.53 263.92,311.42 265.73,310.34 267.54,309.3 269.34,308.27 271.15,307.27 272.95,306.28 274.76,305.32 276.57,304.37 278.37,303.43 280.18,302.51 281.99,301.59 283.79,300.69 285.6,299.78 287.41,298.88 289.21,297.98 291.02,297.07 292.83,296.17 294.63,295.25 296.44,294.33 298.25,293.39 300.05,292.44 301.86,291.48 303.66,290.5 305.47,289.5 307.28,288.48 309.08,287.43 310.89,286.35 312.7,285.25 314.5,284.12 316.31,282.96 318.12,281.77 319.92,280.55 321.73,279.32 323.54,278.06 325.34,276.79 327.15,275.5 328.95,274.2 330.76,272.88 332.57,271.56 334.37,270.22 336.18,268.89 337.99,267.55 339.79,266.21 341.6,264.87 343.41,263.53 345.21,262.21 347.02,260.89 348.83,259.6 350.63,258.33 352.44,257.09 354.25,255.88 356.05,254.72 357.86,253.59 359.66,252.52 361.47,251.5 363.28,250.54 365.08,249.64 366.89,248.82 368.7,248.07 370.5,247.4 372.31,246.81 374.12,246.3 375.92,245.87 377.73,245.5 379.54,245.2 381.34,244.95 383.15,244.76 384.95,244.62 386.76,244.51 388.57,244.44 390.37,244.41 392.18,244.39 393.99,244.4 395.79,244.42 397.6,244.45 399.41,244.48 401.21,244.51 403.02,244.54 404.83,244.55 406.63,244.54 408.44,244.5 410.25,244.44 412.05,244.34 413.86,244.21 415.66,244.02 417.47,243.79 419.28,243.49 421.08,243.14 422.89,242.72 424.7,242.22 426.5,241.65 428.31,240.99" fill="none" stroke="#7f7f7f" stroke-width="1" stroke-opacity="0.75" stroke-linejoin="round"/>
<circle cx="254.89" cy="310.3" r="1.9" fill="#1f77b4" fill-opacity="0.22" stroke="#1f77b4" stroke-width="0.65"/>
<circle cx="283.79" cy="299.23" r="1.9" fill="#1f77b4" fill-opacity="0.22" stroke="#1f77b4" stroke-width="0.65"/>
<circle cx="312.7" cy="285.25" r="1.9" fill="#1f77b4" fill-opacity="0.22" stroke="#1f77b4" stroke-width="0.65"/>
<circle cx="341.6" cy="264.87" r="1.9" fill="#1f77b4" fill-opacity="0.22" stroke="#1f77b4" stroke-width="0.65"/>
<circle cx="370.5" cy="248.27" r="1.9" fill="#1f77b4" fill-opacity="0.22" stroke="#1f77b4" stroke-width="0.65"/>
<circle cx="399.41" cy="240.99" r="1.9" fill="#1f77b4" fill-opacity="0.22" stroke="#1f77b4" stroke-width="0.65"/>
<circle cx="428.31" cy="235.75" r="1.9" fill="#1f77b4" fill-opacity="0.22" stroke="#1f77b4" stroke-width="0.65"/>
<polygon points="254.89,305.78 256.78,309.06 253,309.06" fill="#ff7f0e" fill-opacity="0.22" stroke="#ff7f0e" stroke-width="0.65"/>
<polygon points="283.79,290.64 285.69,293.92 281.9,293.92" fill="#ff7f0e" fill-opacity="0.22" stroke="#ff7f0e" stroke-width="0.65"/>
<polygon points="312.7,273.17 314.59,276.44 310.8,276.44" fill="#ff7f0e" fill-opacity="0.22" stroke="#ff7f0e" stroke-width="0.65"/>
<polygon points="341.6,257.73 343.49,261.01 339.71,261.01" fill="#ff7f0e" fill-opacity="0.22" stroke="#ff7f0e" stroke-width="0.65"/>
<polygon points="370.5,238.8 372.4,242.08 368.61,242.08" fill="#ff7f0e" fill-opacity="0.22" stroke="#ff7f0e" stroke-width="0.65"/>
<polygon points="399.41,224.54 401.3,227.81 397.51,227.81" fill="#ff7f0e" fill-opacity="0.22" stroke="#ff7f0e" stroke-width="0.65"/>
<polygon points="428.31,218.71 430.2,221.99 426.42,221.99" fill="#ff7f0e" fill-opacity="0.22" stroke="#ff7f0e" stroke-width="0.65"/>
<path d="M253.09,295.97L256.7,299.58M253.09,299.58L256.7,295.97" stroke="#2ca02c" stroke-width="1.1" fill="none"/>
<path d="M281.99,274.42L285.6,278.03M281.99,278.03L285.6,274.42" stroke="#2ca02c" stroke-width="1.1" fill="none"/>
<path d="M310.89,257.53L314.5,261.14M310.89,261.14L314.5,257.53" stroke="#2ca02c" stroke-width="1.1" fill="none"/>
<path d="M339.8,243.55L343.41,247.16M339.8,247.16L343.41,243.55" stroke="#2ca02c" stroke-width="1.1" fill="none"/>
<path d="M368.7,224.04L372.31,227.65M368.7,227.65L372.31,224.04" stroke="#2ca02c" stroke-width="1.1" fill="none"/>
<path d="M397.6,209.77L401.21,213.38M397.6,213.38L401.21,209.77" stroke="#2ca02c" stroke-width="1.1" fill="none"/>
<path d="M426.5,203.66L430.11,207.27M426.5,207.27L430.11,203.66" stroke="#2ca02c" stroke-width="1.1" fill="none"/>
<polygon points="254.89,302.58 253,299.3 256.78,299.3" fill="#d62728" fill-opacity="0.22" stroke="#d62728" stroke-width="0.65"/>
<polygon points="283.79,279.57 281.9,276.3 285.69,276.3" fill="#d62728" fill-opacity="0.22" stroke="#d62728" stroke-width="0.65"/>
<polygon points="312.7,264.72 310.8,261.45 314.59,261.45" fill="#d62728" fill-opacity="0.22" stroke="#d62728" stroke-width="0.65"/>
<polygon points="341.6,251.33 339.71,248.05 343.49,248.05" fill="#d62728" fill-opacity="0.22" stroke="#d62728" stroke-width="0.65"/>
<polygon points="370.5,228.91 368.61,225.63 372.4,225.63" fill="#d62728" fill-opacity="0.22" stroke="#d62728" stroke-width="0.65"/>
<polygon points="399.41,213.76 397.51,210.49 401.3,210.49" fill="#d62728" fill-opacity="0.22" stroke="#d62728" stroke-width="0.65"/>
<polygon points="428.31,209.4 426.42,206.12 430.2,206.12" fill="#d62728" fill-opacity="0.22" stroke="#d62728" stroke-width="0.65"/>
<polygon points="254.89,304.52 255.5,305.96 257.06,306.1 255.88,307.12 256.23,308.65 254.89,307.85 253.55,308.65 253.9,307.12 252.72,306.1 254.28,305.96" fill="#9467bd" fill-opacity="0.22" stroke="#9467bd" stroke-width="0.65"/>
<polygon points="283.79,286.76 284.41,288.19 285.96,288.33 284.79,289.36 285.13,290.88 283.79,290.08 282.45,290.88 282.8,289.36 281.63,288.33 283.18,288.19" fill="#9467bd" fill-opacity="0.22" stroke="#9467bd" stroke-width="0.65"/>
<polygon points="312.7,269.29 313.31,270.72 314.87,270.86 313.69,271.89 314.04,273.41 312.7,272.61 311.36,273.41 311.7,271.89 310.53,270.86 312.08,270.72" fill="#9467bd" fill-opacity="0.22" stroke="#9467bd" stroke-width="0.65"/>
<polygon points="341.6,251.81 342.21,253.25 343.77,253.39 342.59,254.42 342.94,255.94 341.6,255.14 340.26,255.94 340.61,254.42 339.43,253.39 340.99,253.25" fill="#9467bd" fill-opacity="0.22" stroke="#9467bd" stroke-width="0.65"/>
<polygon points="370.5,232.59 371.12,234.03 372.67,234.17 371.5,235.2 371.84,236.72 370.5,235.92 369.16,236.72 369.51,235.2 368.33,234.17 369.89,234.03" fill="#9467bd" fill-opacity="0.22" stroke="#9467bd" stroke-width="0.65"/>
<polygon points="399.41,218.62 400.02,220.05 401.57,220.19 400.4,221.22 400.75,222.74 399.41,221.94 398.07,222.74 398.41,221.22 397.24,220.19 398.79,220.05" fill="#9467bd" fill-opacity="0.22" stroke="#9467bd" stroke-width="0.65"/>
<polygon points="428.31,213.08 428.92,214.52 430.48,214.66 429.3,215.69 429.65,217.21 428.31,216.41 426.97,217.21 427.32,215.69 426.14,214.66 427.7,214.52" fill="#9467bd" fill-opacity="0.22" stroke="#9467bd" stroke-width="0.65"/>
<polygon points="257.08,291.37 253.8,293.26 253.8,289.47" fill="#8c564b" fill-opacity="0.22" stroke="#8c564b" stroke-width="0.65"/>
<polygon points="285.98,271.86 282.7,273.75 282.7,269.96" fill="#8c564b" fill-opacity="0.22" stroke="#8c564b" stroke-width="0.65"/>
<polygon points="314.88,259.34 311.6,261.23 311.6,257.44" fill="#8c564b" fill-opacity="0.22" stroke="#8c564b" stroke-width="0.65"/>
<polygon points="343.79,241.57 340.51,243.46 340.51,239.68" fill="#8c564b" fill-opacity="0.22" stroke="#8c564b" stroke-width="0.65"/>
<polygon points="372.69,218.86 369.41,220.75 369.41,216.97" fill="#8c564b" fill-opacity="0.22" stroke="#8c564b" stroke-width="0.65"/>
<polygon points="401.59,206.34 398.31,208.23 398.31,204.44" fill="#8c564b" fill-opacity="0.22" stroke="#8c564b" stroke-width="0.65"/>
<polygon points="430.49,202.84 427.22,204.73 427.22,200.95" fill="#8c564b" fill-opacity="0.22" stroke="#8c564b" stroke-width="0.65"/>
<polygon points="254.89,294.13 256.64,296.32 254.89,298.5 253.14,296.32" fill="#e377c2" fill-opacity="0.22" stroke="#e377c2" stroke-width="0.65"/>
<polygon points="283.79,278.12 285.54,280.3 283.79,282.49 282.05,280.3" fill="#e377c2" fill-opacity="0.22" stroke="#e377c2" stroke-width="0.65"/>
<polygon points="312.7,263.56 314.44,265.74 312.7,267.93 310.95,265.74" fill="#e377c2" fill-opacity="0.22" stroke="#e377c2" stroke-width="0.65"/>
<polygon points="341.6,249 343.35,251.18 341.6,253.37 339.85,251.18" fill="#e377c2" fill-opacity="0.22" stroke="#e377c2" stroke-width="0.65"/>
<polygon points="370.5,231.52 372.25,233.71 370.5,235.89 368.76,233.71" fill="#e377c2" fill-opacity="0.22" stroke="#e377c2" stroke-width="0.65"/>
<polygon points="399.41,218.71 401.15,220.9 399.41,223.08 397.66,220.9" fill="#e377c2" fill-opacity="0.22" stroke="#e377c2" stroke-width="0.65"/>
<polygon points="428.31,209.98 430.06,212.16 428.31,214.35 426.56,212.16" fill="#e377c2" fill-opacity="0.22" stroke="#e377c2" stroke-width="0.65"/>
<polygon points="252.71,317.28 255.98,315.39 255.98,319.18" fill="#7f7f7f" fill-opacity="0.22" stroke="#7f7f7f" stroke-width="0.65"/>
<polygon points="281.61,300.69 284.89,298.79 284.89,302.58" fill="#7f7f7f" fill-opacity="0.22" stroke="#7f7f7f" stroke-width="0.65"/>
<polygon points="310.51,285.25 313.79,283.36 313.79,287.14" fill="#7f7f7f" fill-opacity="0.22" stroke="#7f7f7f" stroke-width="0.65"/>
<polygon points="339.42,264.87 342.69,262.98 342.69,266.76" fill="#7f7f7f" fill-opacity="0.22" stroke="#7f7f7f" stroke-width="0.65"/>
<polygon points="368.32,247.4 371.6,245.5 371.6,249.29" fill="#7f7f7f" fill-opacity="0.22" stroke="#7f7f7f" stroke-width="0.65"/>
<polygon points="397.22,244.48 400.5,242.59 400.5,246.38" fill="#7f7f7f" fill-opacity="0.22" stroke="#7f7f7f" stroke-width="0.65"/>
<polygon points="426.12,240.99 429.4,239.1 429.4,242.88" fill="#7f7f7f" fill-opacity="0.22" stroke="#7f7f7f" stroke-width="0.65"/>
<rect x="252" y="187.7" width="179.2" height="145.6" class="sp"/>
<line x1="254.89" y1="333.3" x2="254.89" y2="334.9" class="tk"/>
<line x1="269.34" y1="333.3" x2="269.34" y2="334.9" class="tk"/>
<line x1="283.79" y1="333.3" x2="283.79" y2="334.9" class="tk"/>
<line x1="298.25" y1="333.3" x2="298.25" y2="334.9" class="tk"/>
<line x1="312.7" y1="333.3" x2="312.7" y2="334.9" class="tk"/>
<line x1="327.15" y1="333.3" x2="327.15" y2="334.9" class="tk"/>
<line x1="341.6" y1="333.3" x2="341.6" y2="334.9" class="tk"/>
<line x1="356.05" y1="333.3" x2="356.05" y2="334.9" class="tk"/>
<line x1="370.5" y1="333.3" x2="370.5" y2="334.9" class="tk"/>
<line x1="384.95" y1="333.3" x2="384.95" y2="334.9" class="tk"/>
<line x1="399.41" y1="333.3" x2="399.41" y2="334.9" class="tk"/>
<line x1="413.86" y1="333.3" x2="413.86" y2="334.9" class="tk"/>
<line x1="428.31" y1="333.3" x2="428.31" y2="334.9" class="tk"/>
<text x="254.89" y="342.1" text-anchor="middle">12</text>
<text x="283.79" y="342.1" text-anchor="middle">14</text>
<text x="312.7" y="342.1" text-anchor="middle">16</text>
<text x="341.6" y="342.1" text-anchor="middle">18</text>
<text x="370.5" y="342.1" text-anchor="middle">20</text>
<text x="399.41" y="342.1" text-anchor="middle">22</text>
<text x="428.31" y="342.1" text-anchor="middle">24</text>
<line x1="250.4" y1="333.3" x2="252" y2="333.3" class="tk"/>
<line x1="250.4" y1="318.74" x2="252" y2="318.74" class="tk"/>
<line x1="250.4" y1="304.18" x2="252" y2="304.18" class="tk"/>
<line x1="250.4" y1="289.62" x2="252" y2="289.62" class="tk"/>
<line x1="250.4" y1="275.06" x2="252" y2="275.06" class="tk"/>
<line x1="250.4" y1="260.5" x2="252" y2="260.5" class="tk"/>
<line x1="250.4" y1="245.94" x2="252" y2="245.94" class="tk"/>
<line x1="250.4" y1="231.38" x2="252" y2="231.38" class="tk"/>
<line x1="250.4" y1="216.82" x2="252" y2="216.82" class="tk"/>
<line x1="250.4" y1="202.26" x2="252" y2="202.26" class="tk"/>
<line x1="250.4" y1="187.7" x2="252" y2="187.7" class="tk"/>
<text x="249.8" y="336.6" text-anchor="end">1</text>
<text x="249.8" y="307.48" text-anchor="end">2</text>
<text x="249.8" y="278.36" text-anchor="end">3</text>
<text x="249.8" y="249.24" text-anchor="end">4</text>
<text x="249.8" y="220.12" text-anchor="end">5</text>
<text x="249.8" y="191" text-anchor="end">6</text>
<text x="341.6" y="351.9" text-anchor="middle" class="al">Speed over ground (knots)</text>
<text transform="translate(234.7,261) rotate(-90)" text-anchor="middle" class="al">Daily fuel consumption of</text>
<text transform="translate(241.8,261) rotate(-90)" text-anchor="middle" class="al">the main engine (t/h)</text>
<text x="329.8" y="363.6" text-anchor="middle" class="pl">(f)</text>
<rect x="253.7" y="189.3" width="91" height="42" fill="#fff" fill-opacity="0.85"/>
<line x1="259.1" y1="196" x2="273.6" y2="196" stroke="#1f77b4" stroke-width="1" stroke-opacity="0.85"/>
<circle cx="266.3" cy="196" r="1.9" fill="#1f77b4" fill-opacity="0.22" stroke="#1f77b4" stroke-width="0.65"/>
<text x="277.4" y="198.7">Seg.-1</text>
<line x1="259.1" y1="206.1" x2="273.6" y2="206.1" stroke="#ff7f0e" stroke-width="1" stroke-opacity="0.85"/>
<polygon points="266.3,203.91 268.19,207.19 264.41,207.19" fill="#ff7f0e" fill-opacity="0.22" stroke="#ff7f0e" stroke-width="0.65"/>
<text x="277.4" y="208.8">Seg.-2</text>
<line x1="259.1" y1="216.2" x2="273.6" y2="216.2" stroke="#2ca02c" stroke-width="1" stroke-opacity="0.85"/>
<path d="M264.5,214.39L268.11,218M264.5,218L268.11,214.39" stroke="#2ca02c" stroke-width="1.1" fill="none"/>
<text x="277.4" y="218.9">Seg.-3</text>
<line x1="259.1" y1="226.3" x2="273.6" y2="226.3" stroke="#d62728" stroke-width="1" stroke-opacity="0.85"/>
<polygon points="266.3,228.49 264.41,225.21 268.19,225.21" fill="#d62728" fill-opacity="0.22" stroke="#d62728" stroke-width="0.65"/>
<text x="277.4" y="229">Seg.-4</text>
<line x1="304.6" y1="196" x2="319.1" y2="196" stroke="#9467bd" stroke-width="1" stroke-opacity="0.85"/>
<polygon points="311.8,193.72 312.41,195.15 313.97,195.3 312.79,196.32 313.14,197.84 311.8,197.04 310.46,197.84 310.81,196.32 309.63,195.3 311.19,195.15" fill="#9467bd" fill-opacity="0.22" stroke="#9467bd" stroke-width="0.65"/>
<text x="322.9" y="198.7">Seg.-5</text>
<line x1="304.6" y1="206.1" x2="319.1" y2="206.1" stroke="#8c564b" stroke-width="1" stroke-opacity="0.85"/>
<polygon points="313.99,206.1 310.71,207.99 310.71,204.21" fill="#8c564b" fill-opacity="0.22" stroke="#8c564b" stroke-width="0.65"/>
<text x="322.9" y="208.8">Seg.-6</text>
<line x1="304.6" y1="216.2" x2="319.1" y2="216.2" stroke="#e377c2" stroke-width="1" stroke-opacity="0.85"/>
<polygon points="311.8,214.01 313.55,216.2 311.8,218.38 310.05,216.2" fill="#e377c2" fill-opacity="0.22" stroke="#e377c2" stroke-width="0.65"/>
<text x="322.9" y="218.9">Seg.-7</text>
<line x1="304.6" y1="226.3" x2="319.1" y2="226.3" stroke="#7f7f7f" stroke-width="1" stroke-opacity="0.85"/>
<polygon points="309.62,226.3 312.89,224.41 312.89,228.19" fill="#7f7f7f" fill-opacity="0.22" stroke="#7f7f7f" stroke-width="0.65"/>
<text x="322.9" y="229">Seg.-8</text>
<line x1="34.24" y1="366.2" x2="34.24" y2="513.6" class="g"/>
<line x1="63.64" y1="366.2" x2="63.64" y2="513.6" class="g"/>
<line x1="93.05" y1="366.2" x2="93.05" y2="513.6" class="g"/>
<line x1="122.45" y1="366.2" x2="122.45" y2="513.6" class="g"/>
<line x1="151.85" y1="366.2" x2="151.85" y2="513.6" class="g"/>
<line x1="181.26" y1="366.2" x2="181.26" y2="513.6" class="g"/>
<line x1="210.66" y1="366.2" x2="210.66" y2="513.6" class="g"/>
<line x1="31.3" y1="513.6" x2="213.6" y2="513.6" class="g"/>
<line x1="31.3" y1="486.8" x2="213.6" y2="486.8" class="g"/>
<line x1="31.3" y1="460" x2="213.6" y2="460" class="g"/>
<line x1="31.3" y1="433.2" x2="213.6" y2="433.2" class="g"/>
<line x1="31.3" y1="406.4" x2="213.6" y2="406.4" class="g"/>
<line x1="31.3" y1="379.6" x2="213.6" y2="379.6" class="g"/>
<polyline points="34.24,502.34 63.64,484.25 93.05,466.16 122.45,448.07 151.85,429.98 181.26,411.89 210.66,393.8" fill="none" stroke="#1f77b4" stroke-width="1" stroke-opacity="0.75" stroke-linejoin="round"/>
<polyline points="34.24,496.98 63.64,478.89 93.05,460.8 122.45,442.71 151.85,424.62 181.26,406.53 210.66,388.44" fill="none" stroke="#ff7f0e" stroke-width="1" stroke-opacity="0.75" stroke-linejoin="round"/>
<polyline points="34.24,488.68 63.64,470.59 93.05,452.5 122.45,434.41 151.85,416.32 181.26,398.23 210.66,380.14" fill="none" stroke="#2ca02c" stroke-width="1" stroke-opacity="0.75" stroke-linejoin="round"/>
<polyline points="34.24,488.14 63.64,470.05 93.05,451.96 122.45,433.87 151.85,415.78 181.26,397.69 210.66,379.6" fill="none" stroke="#d62728" stroke-width="1" stroke-opacity="0.75" stroke-linejoin="round"/>
<polyline points="34.24,492.7 63.64,474.61 93.05,456.52 122.45,438.43 151.85,420.34 181.26,402.25 210.66,384.16" fill="none" stroke="#9467bd" stroke-width="1" stroke-opacity="0.75" stroke-linejoin="round"/>
<polyline points="34.24,487.87 63.64,469.78 93.05,451.69 122.45,433.6 151.85,415.51 181.26,397.42 210.66,379.33" fill="none" stroke="#8c564b" stroke-width="1" stroke-opacity="0.75" stroke-linejoin="round"/>
<polyline points="34.24,494.44 63.64,476.35 93.05,458.26 122.45,440.17 151.85,422.08 181.26,403.99 210.66,385.9" fill="none" stroke="#e377c2" stroke-width="1" stroke-opacity="0.75" stroke-linejoin="round"/>
<polyline points="34.24,508.91 63.64,490.82 93.05,472.73 122.45,454.64 151.85,436.55 181.26,418.46 210.66,400.37" fill="none" stroke="#7f7f7f" stroke-width="1" stroke-opacity="0.75" stroke-linejoin="round"/>
<circle cx="34.24" cy="502.34" r="1.9" fill="#1f77b4" fill-opacity="0.22" stroke="#1f77b4" stroke-width="0.65"/>
<circle cx="63.64" cy="484.25" r="1.9" fill="#1f77b4" fill-opacity="0.22" stroke="#1f77b4" stroke-width="0.65"/>
<circle cx="93.05" cy="466.16" r="1.9" fill="#1f77b4" fill-opacity="0.22" stroke="#1f77b4" stroke-width="0.65"/>
<circle cx="122.45" cy="448.07" r="1.9" fill="#1f77b4" fill-opacity="0.22" stroke="#1f77b4" stroke-width="0.65"/>
<circle cx="151.85" cy="429.98" r="1.9" fill="#1f77b4" fill-opacity="0.22" stroke="#1f77b4" stroke-width="0.65"/>
<circle cx="181.26" cy="411.89" r="1.9" fill="#1f77b4" fill-opacity="0.22" stroke="#1f77b4" stroke-width="0.65"/>
<circle cx="210.66" cy="393.8" r="1.9" fill="#1f77b4" fill-opacity="0.22" stroke="#1f77b4" stroke-width="0.65"/>
<polygon points="34.24,494.8 36.13,498.08 32.35,498.08" fill="#ff7f0e" fill-opacity="0.22" stroke="#ff7f0e" stroke-width="0.65"/>
<polygon points="63.64,476.71 65.54,479.99 61.75,479.99" fill="#ff7f0e" fill-opacity="0.22" stroke="#ff7f0e" stroke-width="0.65"/>
<polygon points="93.05,458.62 94.94,461.9 91.15,461.9" fill="#ff7f0e" fill-opacity="0.22" stroke="#ff7f0e" stroke-width="0.65"/>
<polygon points="122.45,440.53 124.34,443.81 120.56,443.81" fill="#ff7f0e" fill-opacity="0.22" stroke="#ff7f0e" stroke-width="0.65"/>
<polygon points="151.85,422.44 153.75,425.72 149.96,425.72" fill="#ff7f0e" fill-opacity="0.22" stroke="#ff7f0e" stroke-width="0.65"/>
<polygon points="181.26,404.35 183.15,407.63 179.36,407.63" fill="#ff7f0e" fill-opacity="0.22" stroke="#ff7f0e" stroke-width="0.65"/>
<polygon points="210.66,386.26 212.55,389.54 208.77,389.54" fill="#ff7f0e" fill-opacity="0.22" stroke="#ff7f0e" stroke-width="0.65"/>
<path d="M32.44,486.87L36.05,490.48M32.44,490.48L36.05,486.87" stroke="#2ca02c" stroke-width="1.1" fill="none"/>
<path d="M61.84,468.78L65.45,472.39M61.84,472.39L65.45,468.78" stroke="#2ca02c" stroke-width="1.1" fill="none"/>
<path d="M91.24,450.69L94.85,454.3M91.24,454.3L94.85,450.69" stroke="#2ca02c" stroke-width="1.1" fill="none"/>
<path d="M120.64,432.6L124.25,436.21M120.64,436.21L124.25,432.6" stroke="#2ca02c" stroke-width="1.1" fill="none"/>
<path d="M150.05,414.51L153.66,418.12M150.05,418.12L153.66,414.51" stroke="#2ca02c" stroke-width="1.1" fill="none"/>
<path d="M179.45,396.42L183.06,400.03M179.45,400.03L183.06,396.42" stroke="#2ca02c" stroke-width="1.1" fill="none"/>
<path d="M208.85,378.33L212.46,381.94M208.85,381.94L212.46,378.33" stroke="#2ca02c" stroke-width="1.1" fill="none"/>
<polygon points="34.24,490.32 32.35,487.05 36.13,487.05" fill="#d62728" fill-opacity="0.22" stroke="#d62728" stroke-width="0.65"/>
<polygon points="63.64,472.24 61.75,468.96 65.54,468.96" fill="#d62728" fill-opacity="0.22" stroke="#d62728" stroke-width="0.65"/>
<polygon points="93.05,454.15 91.15,450.87 94.94,450.87" fill="#d62728" fill-opacity="0.22" stroke="#d62728" stroke-width="0.65"/>
<polygon points="122.45,436.06 120.56,432.78 124.34,432.78" fill="#d62728" fill-opacity="0.22" stroke="#d62728" stroke-width="0.65"/>
<polygon points="151.85,417.96 149.96,414.69 153.75,414.69" fill="#d62728" fill-opacity="0.22" stroke="#d62728" stroke-width="0.65"/>
<polygon points="181.26,399.88 179.36,396.6 183.15,396.6" fill="#d62728" fill-opacity="0.22" stroke="#d62728" stroke-width="0.65"/>
<polygon points="210.66,381.78 208.77,378.51 212.55,378.51" fill="#d62728" fill-opacity="0.22" stroke="#d62728" stroke-width="0.65"/>
<polygon points="34.24,490.42 34.85,491.85 36.41,491.99 35.23,493.02 35.58,494.54 34.24,493.74 32.9,494.54 33.25,493.02 32.07,491.99 33.63,491.85" fill="#9467bd" fill-opacity="0.22" stroke="#9467bd" stroke-width="0.65"/>
<polygon points="63.64,472.33 64.26,473.76 65.81,473.9 64.64,474.93 64.98,476.45 63.64,475.65 62.3,476.45 62.65,474.93 61.48,473.9 63.03,473.76" fill="#9467bd" fill-opacity="0.22" stroke="#9467bd" stroke-width="0.65"/>
<polygon points="93.05,454.24 93.66,455.67 95.22,455.81 94.04,456.84 94.39,458.36 93.05,457.56 91.71,458.36 92.05,456.84 90.88,455.81 92.43,455.67" fill="#9467bd" fill-opacity="0.22" stroke="#9467bd" stroke-width="0.65"/>
<polygon points="122.45,436.15 123.06,437.58 124.62,437.72 123.44,438.75 123.79,440.27 122.45,439.47 121.11,440.27 121.46,438.75 120.28,437.72 121.84,437.58" fill="#9467bd" fill-opacity="0.22" stroke="#9467bd" stroke-width="0.65"/>
<polygon points="151.85,418.06 152.47,419.49 154.02,419.63 152.85,420.66 153.19,422.18 151.85,421.38 150.51,422.18 150.86,420.66 149.68,419.63 151.24,419.49" fill="#9467bd" fill-opacity="0.22" stroke="#9467bd" stroke-width="0.65"/>
<polygon points="181.26,399.97 181.87,401.4 183.42,401.54 182.25,402.57 182.6,404.09 181.26,403.29 179.92,404.09 180.26,402.57 179.09,401.54 180.64,401.4" fill="#9467bd" fill-opacity="0.22" stroke="#9467bd" stroke-width="0.65"/>
<polygon points="210.66,381.88 211.27,383.31 212.83,383.45 211.65,384.48 212,386 210.66,385.2 209.32,386 209.67,384.48 208.49,383.45 210.05,383.31" fill="#9467bd" fill-opacity="0.22" stroke="#9467bd" stroke-width="0.65"/>
<polygon points="36.43,487.87 33.15,489.76 33.15,485.98" fill="#8c564b" fill-opacity="0.22" stroke="#8c564b" stroke-width="0.65"/>
<polygon points="65.83,469.78 62.55,471.67 62.55,467.89" fill="#8c564b" fill-opacity="0.22" stroke="#8c564b" stroke-width="0.65"/>
<polygon points="95.23,451.69 91.95,453.58 91.95,449.8" fill="#8c564b" fill-opacity="0.22" stroke="#8c564b" stroke-width="0.65"/>
<polygon points="124.63,433.6 121.36,435.49 121.36,431.71" fill="#8c564b" fill-opacity="0.22" stroke="#8c564b" stroke-width="0.65"/>
<polygon points="154.04,415.51 150.76,417.4 150.76,413.62" fill="#8c564b" fill-opacity="0.22" stroke="#8c564b" stroke-width="0.65"/>
<polygon points="183.44,397.42 180.16,399.31 180.16,395.53" fill="#8c564b" fill-opacity="0.22" stroke="#8c564b" stroke-width="0.65"/>
<polygon points="212.84,379.33 209.57,381.22 209.57,377.44" fill="#8c564b" fill-opacity="0.22" stroke="#8c564b" stroke-width="0.65"/>
<polygon points="34.24,492.25 35.99,494.44 34.24,496.62 32.49,494.44" fill="#e377c2" fill-opacity="0.22" stroke="#e377c2" stroke-width="0.65"/>
<polygon points="63.64,474.16 65.39,476.35 63.64,478.53 61.9,476.35" fill="#e377c2" fill-opacity="0.22" stroke="#e377c2" stroke-width="0.65"/>
<polygon points="93.05,456.07 94.79,458.26 93.05,460.44 91.3,458.26" fill="#e377c2" fill-opacity="0.22" stroke="#e377c2" stroke-width="0.65"/>
<polygon points="122.45,437.98 124.2,440.17 122.45,442.35 120.7,440.17" fill="#e377c2" fill-opacity="0.22" stroke="#e377c2" stroke-width="0.65"/>
<polygon points="151.85,419.89 153.6,422.08 151.85,424.26 150.11,422.08" fill="#e377c2" fill-opacity="0.22" stroke="#e377c2" stroke-width="0.65"/>
<polygon points="181.26,401.8 183,403.99 181.26,406.17 179.51,403.99" fill="#e377c2" fill-opacity="0.22" stroke="#e377c2" stroke-width="0.65"/>
<polygon points="210.66,383.71 212.41,385.9 210.66,388.08 208.91,385.9" fill="#e377c2" fill-opacity="0.22" stroke="#e377c2" stroke-width="0.65"/>
<polygon points="32.06,508.91 35.33,507.02 35.33,510.8" fill="#7f7f7f" fill-opacity="0.22" stroke="#7f7f7f" stroke-width="0.65"/>
<polygon points="61.46,490.82 64.74,488.93 64.74,492.71" fill="#7f7f7f" fill-opacity="0.22" stroke="#7f7f7f" stroke-width="0.65"/>
<polygon points="90.86,472.73 94.14,470.84 94.14,474.62" fill="#7f7f7f" fill-opacity="0.22" stroke="#7f7f7f" stroke-width="0.65"/>
<polygon points="120.26,454.64 123.54,452.75 123.54,456.53" fill="#7f7f7f" fill-opacity="0.22" stroke="#7f7f7f" stroke-width="0.65"/>
<polygon points="149.67,436.55 152.95,434.66 152.95,438.44" fill="#7f7f7f" fill-opacity="0.22" stroke="#7f7f7f" stroke-width="0.65"/>
<polygon points="179.07,418.46 182.35,416.57 182.35,420.35" fill="#7f7f7f" fill-opacity="0.22" stroke="#7f7f7f" stroke-width="0.65"/>
<polygon points="208.47,400.37 211.75,398.48 211.75,402.26" fill="#7f7f7f" fill-opacity="0.22" stroke="#7f7f7f" stroke-width="0.65"/>
<rect x="31.3" y="366.2" width="182.3" height="147.4" class="sp"/>
<line x1="34.24" y1="513.6" x2="34.24" y2="515.2" class="tk"/>
<line x1="48.94" y1="513.6" x2="48.94" y2="515.2" class="tk"/>
<line x1="63.64" y1="513.6" x2="63.64" y2="515.2" class="tk"/>
<line x1="78.35" y1="513.6" x2="78.35" y2="515.2" class="tk"/>
<line x1="93.05" y1="513.6" x2="93.05" y2="515.2" class="tk"/>
<line x1="107.75" y1="513.6" x2="107.75" y2="515.2" class="tk"/>
<line x1="122.45" y1="513.6" x2="122.45" y2="515.2" class="tk"/>
<line x1="137.15" y1="513.6" x2="137.15" y2="515.2" class="tk"/>
<line x1="151.85" y1="513.6" x2="151.85" y2="515.2" class="tk"/>
<line x1="166.55" y1="513.6" x2="166.55" y2="515.2" class="tk"/>
<line x1="181.26" y1="513.6" x2="181.26" y2="515.2" class="tk"/>
<line x1="195.96" y1="513.6" x2="195.96" y2="515.2" class="tk"/>
<line x1="210.66" y1="513.6" x2="210.66" y2="515.2" class="tk"/>
<text x="34.24" y="522.4" text-anchor="middle">12</text>
<text x="63.64" y="522.4" text-anchor="middle">14</text>
<text x="93.05" y="522.4" text-anchor="middle">16</text>
<text x="122.45" y="522.4" text-anchor="middle">18</text>
<text x="151.85" y="522.4" text-anchor="middle">20</text>
<text x="181.26" y="522.4" text-anchor="middle">22</text>
<text x="210.66" y="522.4" text-anchor="middle">24</text>
<line x1="29.7" y1="513.6" x2="31.3" y2="513.6" class="tk"/>
<line x1="29.7" y1="500.2" x2="31.3" y2="500.2" class="tk"/>
<line x1="29.7" y1="486.8" x2="31.3" y2="486.8" class="tk"/>
<line x1="29.7" y1="473.4" x2="31.3" y2="473.4" class="tk"/>
<line x1="29.7" y1="460" x2="31.3" y2="460" class="tk"/>
<line x1="29.7" y1="446.6" x2="31.3" y2="446.6" class="tk"/>
<line x1="29.7" y1="433.2" x2="31.3" y2="433.2" class="tk"/>
<line x1="29.7" y1="419.8" x2="31.3" y2="419.8" class="tk"/>
<line x1="29.7" y1="406.4" x2="31.3" y2="406.4" class="tk"/>
<line x1="29.7" y1="393" x2="31.3" y2="393" class="tk"/>
<line x1="29.7" y1="379.6" x2="31.3" y2="379.6" class="tk"/>
<line x1="29.7" y1="366.2" x2="31.3" y2="366.2" class="tk"/>
<text x="29.1" y="516.9" text-anchor="end">1</text>
<text x="29.1" y="490.1" text-anchor="end">2</text>
<text x="29.1" y="463.3" text-anchor="end">3</text>
<text x="29.1" y="436.5" text-anchor="end">4</text>
<text x="29.1" y="409.7" text-anchor="end">5</text>
<text x="29.1" y="382.9" text-anchor="end">6</text>
<text x="122.45" y="532.2" text-anchor="middle" class="al">Speed over ground (knots)</text>
<text transform="translate(13.2,440.3) rotate(-90)" text-anchor="middle" class="al">Daily fuel consumption of</text>
<text transform="translate(21,440.3) rotate(-90)" text-anchor="middle" class="al">the main engine (t/h)</text>
<text x="111" y="543.9" text-anchor="middle" class="pl">(g)</text>
<rect x="33.5" y="366.7" width="91" height="42" fill="#fff" fill-opacity="0.85"/>
<line x1="38.9" y1="373.4" x2="53.4" y2="373.4" stroke="#1f77b4" stroke-width="1" stroke-opacity="0.85"/>
<circle cx="46.1" cy="373.4" r="1.9" fill="#1f77b4" fill-opacity="0.22" stroke="#1f77b4" stroke-width="0.65"/>
<text x="57.2" y="376.1">Seg.-1</text>
<line x1="38.9" y1="383.7" x2="53.4" y2="383.7" stroke="#ff7f0e" stroke-width="1" stroke-opacity="0.85"/>
<polygon points="46.1,381.51 47.99,384.79 44.21,384.79" fill="#ff7f0e" fill-opacity="0.22" stroke="#ff7f0e" stroke-width="0.65"/>
<text x="57.2" y="386.4">Seg.-2</text>
<line x1="38.9" y1="394" x2="53.4" y2="394" stroke="#2ca02c" stroke-width="1" stroke-opacity="0.85"/>
<path d="M44.3,392.19L47.91,395.81M44.3,395.81L47.91,392.19" stroke="#2ca02c" stroke-width="1.1" fill="none"/>
<text x="57.2" y="396.7">Seg.-3</text>
<line x1="38.9" y1="404.3" x2="53.4" y2="404.3" stroke="#d62728" stroke-width="1" stroke-opacity="0.85"/>
<polygon points="46.1,406.48 44.21,403.21 47.99,403.21" fill="#d62728" fill-opacity="0.22" stroke="#d62728" stroke-width="0.65"/>
<text x="57.2" y="407">Seg.-4</text>
<line x1="84.4" y1="373.4" x2="98.9" y2="373.4" stroke="#9467bd" stroke-width="1" stroke-opacity="0.85"/>
<polygon points="91.6,371.12 92.21,372.55 93.77,372.7 92.59,373.72 92.94,375.24 91.6,374.44 90.26,375.24 90.61,373.72 89.43,372.7 90.99,372.55" fill="#9467bd" fill-opacity="0.22" stroke="#9467bd" stroke-width="0.65"/>
<text x="102.7" y="376.1">Seg.-5</text>
<line x1="84.4" y1="383.7" x2="98.9" y2="383.7" stroke="#8c564b" stroke-width="1" stroke-opacity="0.85"/>
<polygon points="93.79,383.7 90.51,385.59 90.51,381.81" fill="#8c564b" fill-opacity="0.22" stroke="#8c564b" stroke-width="0.65"/>
<text x="102.7" y="386.4">Seg.-6</text>
<line x1="84.4" y1="394" x2="98.9" y2="394" stroke="#e377c2" stroke-width="1" stroke-opacity="0.85"/>
<polygon points="91.6,391.81 93.35,394 91.6,396.19 89.85,394" fill="#e377c2" fill-opacity="0.22" stroke="#e377c2" stroke-width="0.65"/>
<text x="102.7" y="396.7">Seg.-7</text>
<line x1="84.4" y1="404.3" x2="98.9" y2="404.3" stroke="#7f7f7f" stroke-width="1" stroke-opacity="0.85"/>
<polygon points="89.42,404.3 92.69,402.41 92.69,406.19" fill="#7f7f7f" fill-opacity="0.22" stroke="#7f7f7f" stroke-width="0.65"/>
<text x="102.7" y="407">Seg.-8</text>
<line x1="253.04" y1="366" x2="253.04" y2="513.6" class="g"/>
<line x1="282.44" y1="366" x2="282.44" y2="513.6" class="g"/>
<line x1="311.85" y1="366" x2="311.85" y2="513.6" class="g"/>
<line x1="341.25" y1="366" x2="341.25" y2="513.6" class="g"/>
<line x1="370.65" y1="366" x2="370.65" y2="513.6" class="g"/>
<line x1="400.06" y1="366" x2="400.06" y2="513.6" class="g"/>
<line x1="429.46" y1="366" x2="429.46" y2="513.6" class="g"/>
<line x1="250.1" y1="513.6" x2="432.4" y2="513.6" class="g"/>
<line x1="250.1" y1="486.76" x2="432.4" y2="486.76" class="g"/>
<line x1="250.1" y1="459.93" x2="432.4" y2="459.93" class="g"/>
<line x1="250.1" y1="433.09" x2="432.4" y2="433.09" class="g"/>
<line x1="250.1" y1="406.25" x2="432.4" y2="406.25" class="g"/>
<line x1="250.1" y1="379.42" x2="432.4" y2="379.42" class="g"/>
<polyline points="253.04,502.33 282.44,484.21 311.85,466.1 341.25,447.99 370.65,429.87 400.06,411.76 429.46,393.64" fill="none" stroke="#1f77b4" stroke-width="1" stroke-opacity="0.75" stroke-linejoin="round"/>
<polyline points="253.04,496.96 282.44,478.85 311.85,460.73 341.25,442.62 370.65,424.5 400.06,406.39 429.46,388.27" fill="none" stroke="#ff7f0e" stroke-width="1" stroke-opacity="0.75" stroke-linejoin="round"/>
<polyline points="253.04,488.64 282.44,470.53 311.85,452.41 341.25,434.3 370.65,416.18 400.06,398.07 429.46,379.95" fill="none" stroke="#2ca02c" stroke-width="1" stroke-opacity="0.75" stroke-linejoin="round"/>
<polyline points="253.04,488.11 282.44,469.99 311.85,451.88 341.25,433.76 370.65,415.65 400.06,397.53 429.46,379.42" fill="none" stroke="#d62728" stroke-width="1" stroke-opacity="0.75" stroke-linejoin="round"/>
<polyline points="253.04,492.67 282.44,474.55 311.85,456.44 341.25,438.32 370.65,420.21 400.06,402.09 429.46,383.98" fill="none" stroke="#9467bd" stroke-width="1" stroke-opacity="0.75" stroke-linejoin="round"/>
<polyline points="253.04,487.84 282.44,469.72 311.85,451.61 341.25,433.49 370.65,415.38 400.06,397.26 429.46,379.15" fill="none" stroke="#8c564b" stroke-width="1" stroke-opacity="0.75" stroke-linejoin="round"/>
<polyline points="253.04,494.41 282.44,476.3 311.85,458.18 341.25,440.07 370.65,421.95 400.06,403.84 429.46,385.72" fill="none" stroke="#e377c2" stroke-width="1" stroke-opacity="0.75" stroke-linejoin="round"/>
<polyline points="253.04,508.9 282.44,490.79 311.85,472.67 341.25,454.56 370.65,436.45 400.06,418.33 429.46,400.22" fill="none" stroke="#7f7f7f" stroke-width="1" stroke-opacity="0.75" stroke-linejoin="round"/>
<circle cx="253.04" cy="502.33" r="1.9" fill="#1f77b4" fill-opacity="0.22" stroke="#1f77b4" stroke-width="0.65"/>
<circle cx="282.44" cy="484.21" r="1.9" fill="#1f77b4" fill-opacity="0.22" stroke="#1f77b4" stroke-width="0.65"/>
<circle cx="311.85" cy="466.1" r="1.9" fill="#1f77b4" fill-opacity="0.22" stroke="#1f77b4" stroke-width="0.65"/>
<circle cx="341.25" cy="447.99" r="1.9" fill="#1f77b4" fill-opacity="0.22" stroke="#1f77b4" stroke-width="0.65"/>
<circle cx="370.65" cy="429.87" r="1.9" fill="#1f77b4" fill-opacity="0.22" stroke="#1f77b4" stroke-width="0.65"/>
<circle cx="400.06" cy="411.76" r="1.9" fill="#1f77b4" fill-opacity="0.22" stroke="#1f77b4" stroke-width="0.65"/>
<circle cx="429.46" cy="393.64" r="1.9" fill="#1f77b4" fill-opacity="0.22" stroke="#1f77b4" stroke-width="0.65"/>
<polygon points="253.04,494.78 254.93,498.05 251.15,498.05" fill="#ff7f0e" fill-opacity="0.22" stroke="#ff7f0e" stroke-width="0.65"/>
<polygon points="282.44,476.66 284.34,479.94 280.55,479.94" fill="#ff7f0e" fill-opacity="0.22" stroke="#ff7f0e" stroke-width="0.65"/>
<polygon points="311.85,458.55 313.74,461.82 309.95,461.82" fill="#ff7f0e" fill-opacity="0.22" stroke="#ff7f0e" stroke-width="0.65"/>
<polygon points="341.25,440.43 343.14,443.71 339.36,443.71" fill="#ff7f0e" fill-opacity="0.22" stroke="#ff7f0e" stroke-width="0.65"/>
<polygon points="370.65,422.32 372.55,425.6 368.76,425.6" fill="#ff7f0e" fill-opacity="0.22" stroke="#ff7f0e" stroke-width="0.65"/>
<polygon points="400.06,404.2 401.95,407.48 398.16,407.48" fill="#ff7f0e" fill-opacity="0.22" stroke="#ff7f0e" stroke-width="0.65"/>
<polygon points="429.46,386.09 431.35,389.37 427.57,389.37" fill="#ff7f0e" fill-opacity="0.22" stroke="#ff7f0e" stroke-width="0.65"/>
<path d="M251.24,486.84L254.85,490.45M251.24,490.45L254.85,486.84" stroke="#2ca02c" stroke-width="1.1" fill="none"/>
<path d="M280.64,468.72L284.25,472.33M280.64,472.33L284.25,468.72" stroke="#2ca02c" stroke-width="1.1" fill="none"/>
<path d="M310.04,450.61L313.65,454.22M310.04,454.22L313.65,450.61" stroke="#2ca02c" stroke-width="1.1" fill="none"/>
<path d="M339.44,432.49L343.06,436.1M339.44,436.1L343.06,432.49" stroke="#2ca02c" stroke-width="1.1" fill="none"/>
<path d="M368.85,414.38L372.46,417.99M368.85,417.99L372.46,414.38" stroke="#2ca02c" stroke-width="1.1" fill="none"/>
<path d="M398.25,396.26L401.86,399.87M398.25,399.87L401.86,396.26" stroke="#2ca02c" stroke-width="1.1" fill="none"/>
<path d="M427.65,378.15L431.26,381.76M427.65,381.76L431.26,378.15" stroke="#2ca02c" stroke-width="1.1" fill="none"/>
<polygon points="253.04,490.29 251.15,487.01 254.93,487.01" fill="#d62728" fill-opacity="0.22" stroke="#d62728" stroke-width="0.65"/>
<polygon points="282.44,472.18 280.55,468.9 284.34,468.9" fill="#d62728" fill-opacity="0.22" stroke="#d62728" stroke-width="0.65"/>
<polygon points="311.85,454.06 309.95,450.78 313.74,450.78" fill="#d62728" fill-opacity="0.22" stroke="#d62728" stroke-width="0.65"/>
<polygon points="341.25,435.95 339.36,432.67 343.14,432.67" fill="#d62728" fill-opacity="0.22" stroke="#d62728" stroke-width="0.65"/>
<polygon points="370.65,417.83 368.76,414.55 372.55,414.55" fill="#d62728" fill-opacity="0.22" stroke="#d62728" stroke-width="0.65"/>
<polygon points="400.06,399.72 398.16,396.44 401.95,396.44" fill="#d62728" fill-opacity="0.22" stroke="#d62728" stroke-width="0.65"/>
<polygon points="429.46,381.6 427.57,378.33 431.35,378.33" fill="#d62728" fill-opacity="0.22" stroke="#d62728" stroke-width="0.65"/>
<polygon points="253.04,490.39 253.65,491.82 255.21,491.96 254.03,492.99 254.38,494.51 253.04,493.71 251.7,494.51 252.05,492.99 250.87,491.96 252.43,491.82" fill="#9467bd" fill-opacity="0.22" stroke="#9467bd" stroke-width="0.65"/>
<polygon points="282.44,472.27 283.06,473.71 284.61,473.85 283.44,474.88 283.78,476.4 282.44,475.6 281.1,476.4 281.45,474.88 280.28,473.85 281.83,473.71" fill="#9467bd" fill-opacity="0.22" stroke="#9467bd" stroke-width="0.65"/>
<polygon points="311.85,454.16 312.46,455.59 314.02,455.73 312.84,456.76 313.19,458.28 311.85,457.48 310.51,458.28 310.85,456.76 309.68,455.73 311.23,455.59" fill="#9467bd" fill-opacity="0.22" stroke="#9467bd" stroke-width="0.65"/>
<polygon points="341.25,436.04 341.86,437.48 343.42,437.62 342.24,438.65 342.59,440.17 341.25,439.37 339.91,440.17 340.26,438.65 339.08,437.62 340.64,437.48" fill="#9467bd" fill-opacity="0.22" stroke="#9467bd" stroke-width="0.65"/>
<polygon points="370.65,417.93 371.27,419.36 372.82,419.5 371.65,420.53 371.99,422.05 370.65,421.25 369.31,422.05 369.66,420.53 368.48,419.5 370.04,419.36" fill="#9467bd" fill-opacity="0.22" stroke="#9467bd" stroke-width="0.65"/>
<polygon points="400.06,399.81 400.67,401.25 402.22,401.39 401.05,402.42 401.4,403.94 400.06,403.14 398.72,403.94 399.06,402.42 397.89,401.39 399.44,401.25" fill="#9467bd" fill-opacity="0.22" stroke="#9467bd" stroke-width="0.65"/>
<polygon points="429.46,381.7 430.07,383.13 431.63,383.28 430.45,384.3 430.8,385.82 429.46,385.03 428.12,385.82 428.47,384.3 427.29,383.28 428.85,383.13" fill="#9467bd" fill-opacity="0.22" stroke="#9467bd" stroke-width="0.65"/>
<polygon points="255.23,487.84 251.95,489.73 251.95,485.94" fill="#8c564b" fill-opacity="0.22" stroke="#8c564b" stroke-width="0.65"/>
<polygon points="284.63,469.72 281.35,471.61 281.35,467.83" fill="#8c564b" fill-opacity="0.22" stroke="#8c564b" stroke-width="0.65"/>
<polygon points="314.03,451.61 310.75,453.5 310.75,449.72" fill="#8c564b" fill-opacity="0.22" stroke="#8c564b" stroke-width="0.65"/>
<polygon points="343.44,433.49 340.16,435.39 340.16,431.6" fill="#8c564b" fill-opacity="0.22" stroke="#8c564b" stroke-width="0.65"/>
<polygon points="372.84,415.38 369.56,417.27 369.56,413.49" fill="#8c564b" fill-opacity="0.22" stroke="#8c564b" stroke-width="0.65"/>
<polygon points="402.24,397.26 398.96,399.16 398.96,395.37" fill="#8c564b" fill-opacity="0.22" stroke="#8c564b" stroke-width="0.65"/>
<polygon points="431.64,379.15 428.37,381.04 428.37,377.26" fill="#8c564b" fill-opacity="0.22" stroke="#8c564b" stroke-width="0.65"/>
<polygon points="253.04,492.23 254.79,494.41 253.04,496.6 251.29,494.41" fill="#e377c2" fill-opacity="0.22" stroke="#e377c2" stroke-width="0.65"/>
<polygon points="282.44,474.11 284.19,476.3 282.44,478.48 280.7,476.3" fill="#e377c2" fill-opacity="0.22" stroke="#e377c2" stroke-width="0.65"/>
<polygon points="311.85,456 313.59,458.18 311.85,460.37 310.1,458.18" fill="#e377c2" fill-opacity="0.22" stroke="#e377c2" stroke-width="0.65"/>
<polygon points="341.25,437.88 343,440.07 341.25,442.25 339.5,440.07" fill="#e377c2" fill-opacity="0.22" stroke="#e377c2" stroke-width="0.65"/>
<polygon points="370.65,419.77 372.4,421.95 370.65,424.14 368.91,421.95" fill="#e377c2" fill-opacity="0.22" stroke="#e377c2" stroke-width="0.65"/>
<polygon points="400.06,401.65 401.8,403.84 400.06,406.02 398.31,403.84" fill="#e377c2" fill-opacity="0.22" stroke="#e377c2" stroke-width="0.65"/>
<polygon points="429.46,383.54 431.21,385.72 429.46,387.91 427.71,385.72" fill="#e377c2" fill-opacity="0.22" stroke="#e377c2" stroke-width="0.65"/>
<polygon points="250.86,508.9 254.13,507.01 254.13,510.8" fill="#7f7f7f" fill-opacity="0.22" stroke="#7f7f7f" stroke-width="0.65"/>
<polygon points="280.26,490.79 283.54,488.9 283.54,492.68" fill="#7f7f7f" fill-opacity="0.22" stroke="#7f7f7f" stroke-width="0.65"/>
<polygon points="309.66,472.67 312.94,470.78 312.94,474.57" fill="#7f7f7f" fill-opacity="0.22" stroke="#7f7f7f" stroke-width="0.65"/>
<polygon points="339.06,454.56 342.34,452.67 342.34,456.45" fill="#7f7f7f" fill-opacity="0.22" stroke="#7f7f7f" stroke-width="0.65"/>
<polygon points="368.47,436.45 371.75,434.55 371.75,438.34" fill="#7f7f7f" fill-opacity="0.22" stroke="#7f7f7f" stroke-width="0.65"/>
<polygon points="397.87,418.33 401.15,416.44 401.15,420.22" fill="#7f7f7f" fill-opacity="0.22" stroke="#7f7f7f" stroke-width="0.65"/>
<polygon points="427.27,400.22 430.55,398.32 430.55,402.11" fill="#7f7f7f" fill-opacity="0.22" stroke="#7f7f7f" stroke-width="0.65"/>
<rect x="250.1" y="366" width="182.3" height="147.6" class="sp"/>
<line x1="253.04" y1="513.6" x2="253.04" y2="515.2" class="tk"/>
<line x1="267.74" y1="513.6" x2="267.74" y2="515.2" class="tk"/>
<line x1="282.44" y1="513.6" x2="282.44" y2="515.2" class="tk"/>
<line x1="297.15" y1="513.6" x2="297.15" y2="515.2" class="tk"/>
<line x1="311.85" y1="513.6" x2="311.85" y2="515.2" class="tk"/>
<line x1="326.55" y1="513.6" x2="326.55" y2="515.2" class="tk"/>
<line x1="341.25" y1="513.6" x2="341.25" y2="515.2" class="tk"/>
<line x1="355.95" y1="513.6" x2="355.95" y2="515.2" class="tk"/>
<line x1="370.65" y1="513.6" x2="370.65" y2="515.2" class="tk"/>
<line x1="385.35" y1="513.6" x2="385.35" y2="515.2" class="tk"/>
<line x1="400.06" y1="513.6" x2="400.06" y2="515.2" class="tk"/>
<line x1="414.76" y1="513.6" x2="414.76" y2="515.2" class="tk"/>
<line x1="429.46" y1="513.6" x2="429.46" y2="515.2" class="tk"/>
<text x="253.04" y="522.4" text-anchor="middle">12</text>
<text x="282.44" y="522.4" text-anchor="middle">14</text>
<text x="311.85" y="522.4" text-anchor="middle">16</text>
<text x="341.25" y="522.4" text-anchor="middle">18</text>
<text x="370.65" y="522.4" text-anchor="middle">20</text>
<text x="400.06" y="522.4" text-anchor="middle">22</text>
<text x="429.46" y="522.4" text-anchor="middle">24</text>
<line x1="248.5" y1="513.6" x2="250.1" y2="513.6" class="tk"/>
<line x1="248.5" y1="500.18" x2="250.1" y2="500.18" class="tk"/>
<line x1="248.5" y1="486.76" x2="250.1" y2="486.76" class="tk"/>
<line x1="248.5" y1="473.35" x2="250.1" y2="473.35" class="tk"/>
<line x1="248.5" y1="459.93" x2="250.1" y2="459.93" class="tk"/>
<line x1="248.5" y1="446.51" x2="250.1" y2="446.51" class="tk"/>
<line x1="248.5" y1="433.09" x2="250.1" y2="433.09" class="tk"/>
<line x1="248.5" y1="419.67" x2="250.1" y2="419.67" class="tk"/>
<line x1="248.5" y1="406.25" x2="250.1" y2="406.25" class="tk"/>
<line x1="248.5" y1="392.84" x2="250.1" y2="392.84" class="tk"/>
<line x1="248.5" y1="379.42" x2="250.1" y2="379.42" class="tk"/>
<line x1="248.5" y1="366" x2="250.1" y2="366" class="tk"/>
<text x="247.9" y="516.9" text-anchor="end">1</text>
<text x="247.9" y="490.06" text-anchor="end">2</text>
<text x="247.9" y="463.23" text-anchor="end">3</text>
<text x="247.9" y="436.39" text-anchor="end">4</text>
<text x="247.9" y="409.55" text-anchor="end">5</text>
<text x="247.9" y="382.72" text-anchor="end">6</text>
<text x="341.25" y="532.2" text-anchor="middle" class="al">Speed over ground (knots)</text>
<text transform="translate(232,440.2) rotate(-90)" text-anchor="middle" class="al">Daily fuel consumption of</text>
<text transform="translate(239.7,440.2) rotate(-90)" text-anchor="middle" class="al">the main engine (t/h)</text>
<text x="329.8" y="543.9" text-anchor="middle" class="pl">(h)</text>
<rect x="252.4" y="366.7" width="91" height="42" fill="#fff" fill-opacity="0.85"/>
<line x1="257.8" y1="373.4" x2="272.3" y2="373.4" stroke="#1f77b4" stroke-width="1" stroke-opacity="0.85"/>
<circle cx="265" cy="373.4" r="1.9" fill="#1f77b4" fill-opacity="0.22" stroke="#1f77b4" stroke-width="0.65"/>
<text x="276.1" y="376.1">Seg.-1</text>
<line x1="257.8" y1="383.7" x2="272.3" y2="383.7" stroke="#ff7f0e" stroke-width="1" stroke-opacity="0.85"/>
<polygon points="265,381.51 266.89,384.79 263.11,384.79" fill="#ff7f0e" fill-opacity="0.22" stroke="#ff7f0e" stroke-width="0.65"/>
<text x="276.1" y="386.4">Seg.-2</text>
<line x1="257.8" y1="394" x2="272.3" y2="394" stroke="#2ca02c" stroke-width="1" stroke-opacity="0.85"/>
<path d="M263.19,392.19L266.81,395.81M263.19,395.81L266.81,392.19" stroke="#2ca02c" stroke-width="1.1" fill="none"/>
<text x="276.1" y="396.7">Seg.-3</text>
<line x1="257.8" y1="404.3" x2="272.3" y2="404.3" stroke="#d62728" stroke-width="1" stroke-opacity="0.85"/>
<polygon points="265,406.48 263.11,403.21 266.89,403.21" fill="#d62728" fill-opacity="0.22" stroke="#d62728" stroke-width="0.65"/>
<text x="276.1" y="407">Seg.-4</text>
<line x1="303.3" y1="373.4" x2="317.8" y2="373.4" stroke="#9467bd" stroke-width="1" stroke-opacity="0.85"/>
<polygon points="310.5,371.12 311.11,372.55 312.67,372.7 311.49,373.72 311.84,375.24 310.5,374.44 309.16,375.24 309.51,373.72 308.33,372.7 309.89,372.55" fill="#9467bd" fill-opacity="0.22" stroke="#9467bd" stroke-width="0.65"/>
<text x="321.6" y="376.1">Seg.-5</text>
<line x1="303.3" y1="383.7" x2="317.8" y2="383.7" stroke="#8c564b" stroke-width="1" stroke-opacity="0.85"/>
<polygon points="312.69,383.7 309.41,385.59 309.41,381.81" fill="#8c564b" fill-opacity="0.22" stroke="#8c564b" stroke-width="0.65"/>
<text x="321.6" y="386.4">Seg.-6</text>
<line x1="303.3" y1="394" x2="317.8" y2="394" stroke="#e377c2" stroke-width="1" stroke-opacity="0.85"/>
<polygon points="310.5,391.81 312.25,394 310.5,396.19 308.75,394" fill="#e377c2" fill-opacity="0.22" stroke="#e377c2" stroke-width="0.65"/>
<text x="321.6" y="396.7">Seg.-7</text>
<line x1="303.3" y1="404.3" x2="317.8" y2="404.3" stroke="#7f7f7f" stroke-width="1" stroke-opacity="0.85"/>
<polygon points="308.31,404.3 311.59,402.41 311.59,406.19" fill="#7f7f7f" fill-opacity="0.22" stroke="#7f7f7f" stroke-width="0.65"/>
<text x="321.6" y="407">Seg.-8</text>
</svg>
</body></html>
